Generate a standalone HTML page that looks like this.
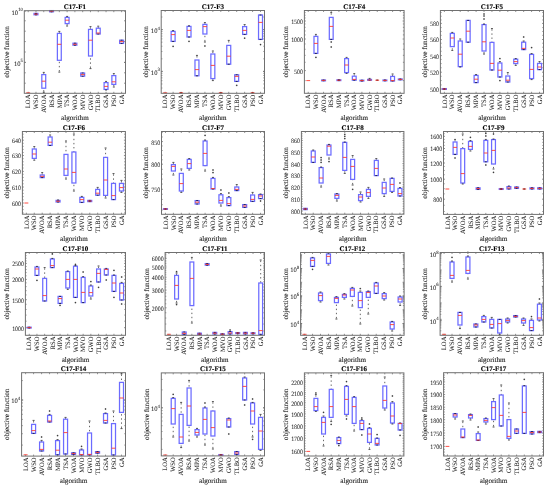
<!DOCTYPE html>
<html><head><meta charset="utf-8"><title>C17 boxplots</title><style>
html,body{margin:0;padding:0;background:#fff;}
body{width:550px;height:488px;overflow:hidden;}
svg{display:block;text-rendering:geometricPrecision;}
text{font-family:"Liberation Serif","Times New Roman",serif;fill:#222;stroke:#222;stroke-width:0.15px;}
.tt{font-size:7.0px;font-weight:bold;text-anchor:middle;fill:#000;}
.yl{font-size:6.6px;text-anchor:end;stroke-width:0.04px;fill:#222;}
.ex{font-size:4.75px;}
.xl{font-size:6.6px;text-anchor:end;stroke-width:0.05px;fill:#222;}
.lab{font-size:7.1px;text-anchor:middle;stroke-width:0.1px;fill:#222;}
.ax{fill:none;stroke:#707070;stroke-width:1.0;}
.tk{fill:none;stroke:#707070;stroke-width:0.75;}
.bx{fill:none;stroke:#6c6cff;stroke-width:1.25;}
.md{fill:none;stroke:#ff3a30;stroke-width:0.9;}
.wk{fill:none;stroke:#333;stroke-width:0.75;stroke-dasharray:1.4 2.7;stroke-dashoffset:-0.7;}
.cp{fill:none;stroke:#000;stroke-width:0.7;}
.ol{fill:none;stroke:#222;stroke-width:0.7;}
</style></head>
<body><svg width="550" height="488" viewBox="0 0 550 488">
<g>
<rect width="550" height="488" fill="#fff"/>
<g><text x="74.9" y="8.8" class="tt">C17-F1</text>
<text x="22.9" y="14.6" class="yl">10<tspan class="ex" dy="-3.4">10</tspan></text>
<text x="22.9" y="65.8" class="yl">10<tspan class="ex" dy="-3.4">5</tspan></text>
<text transform="translate(9.28,52) rotate(-90)" class="lab">objective function</text>
<text transform="translate(30.37,94.6) rotate(-90)" class="xl">LOA</text>
<text transform="translate(38.15,94.6) rotate(-90)" class="xl">WSO</text>
<text transform="translate(45.94,94.6) rotate(-90)" class="xl">AVOA</text>
<text transform="translate(53.72,94.6) rotate(-90)" class="xl">RSA</text>
<text transform="translate(61.51,94.6) rotate(-90)" class="xl">MPA</text>
<text transform="translate(69.29,94.6) rotate(-90)" class="xl">TSA</text>
<text transform="translate(77.08,94.6) rotate(-90)" class="xl">WOA</text>
<text transform="translate(84.86,94.6) rotate(-90)" class="xl">MVO</text>
<text transform="translate(92.65,94.6) rotate(-90)" class="xl">GWO</text>
<text transform="translate(100.43,94.6) rotate(-90)" class="xl">TLBO</text>
<text transform="translate(108.22,94.6) rotate(-90)" class="xl">GSA</text>
<text transform="translate(116,94.6) rotate(-90)" class="xl">PSO</text>
<text transform="translate(123.79,94.6) rotate(-90)" class="xl">GA</text>
<text x="74.9" y="120.3" class="lab">algorithm</text>
<path d="M28.19 93.3v-1.5M28.19 10.7v1.5M35.98 93.3v-1.5M35.98 10.7v1.5M43.76 93.3v-1.5M43.76 10.7v1.5M51.55 93.3v-1.5M51.55 10.7v1.5M59.33 93.3v-1.5M59.33 10.7v1.5M67.12 93.3v-1.5M67.12 10.7v1.5M74.9 93.3v-1.5M74.9 10.7v1.5M82.68 93.3v-1.5M82.68 10.7v1.5M90.47 93.3v-1.5M90.47 10.7v1.5M98.25 93.3v-1.5M98.25 10.7v1.5M106.04 93.3v-1.5M106.04 10.7v1.5M113.82 93.3v-1.5M113.82 10.7v1.5M121.61 93.3v-1.5M121.61 10.7v1.5M24.3 11.2h1.5M125.5 11.2h-1.5M24.3 62.4h1.5M125.5 62.4h-1.5M24.3 20.8h1.5M125.5 20.8h-1.5M24.3 31.2h1.5M125.5 31.2h-1.5M24.3 41.6h1.5M125.5 41.6h-1.5M24.3 52h1.5M125.5 52h-1.5M24.3 62.4h1.5M125.5 62.4h-1.5M24.3 72.8h1.5M125.5 72.8h-1.5M24.3 83.2h1.5M125.5 83.2h-1.5" class="tk"/>
<rect x="26.25" y="92.8" width="3.89" height="0" class="bx"/>
<path d="M26.25 92.8h3.89" class="md"/>
<rect x="34.03" y="13.4" width="3.89" height="1.4" class="bx"/>
<path d="M35 13.4h1.95M35 14.8h1.95" class="cp"/>
<path d="M34.03 14.1h3.89" class="md"/>
<path d="M43.76 72.4V74.6" class="wk"/>
<path d="M43.76 92.2V88.2" class="wk"/>
<rect x="41.82" y="74.6" width="3.89" height="13.6" class="bx"/>
<path d="M42.79 72.4h1.95M42.79 92.2h1.95" class="cp"/>
<path d="M41.82 81.2h3.89" class="md"/>
<rect x="49.6" y="10.6" width="3.89" height="1.2" class="bx"/>
<path d="M50.57 10.6h1.95M50.57 11.8h1.95" class="cp"/>
<path d="M49.6 11.2h3.89" class="md"/>
<path d="M59.33 31.4V33.4" class="wk"/>
<path d="M59.33 72.1V60.3" class="wk"/>
<rect x="57.38" y="33.4" width="3.89" height="26.9" class="bx"/>
<path d="M58.36 31.4h1.95M58.36 72.1h1.95" class="cp"/>
<path d="M57.38 44.3h3.89" class="md"/>
<path d="M67.12 16.4V17.4" class="wk"/>
<path d="M67.12 26V23.6" class="wk"/>
<rect x="65.17" y="17.4" width="3.89" height="6.2" class="bx"/>
<path d="M66.14 16.4h1.95M66.14 26h1.95" class="cp"/>
<path d="M65.17 20.2h3.89" class="md"/>
<rect x="72.95" y="43.2" width="3.89" height="2" class="bx"/>
<path d="M73.93 43.2h1.95M73.93 45.2h1.95" class="cp"/>
<path d="M72.95 44.3h3.89" class="md"/>
<rect x="80.74" y="73" width="3.89" height="3.2" class="bx"/>
<path d="M81.71 73h1.95M81.71 76.2h1.95" class="cp"/>
<path d="M80.74 74.6h3.89" class="md"/>
<path d="M90.47 26.6V29.4" class="wk"/>
<path d="M90.47 68.6V56" class="wk"/>
<rect x="88.52" y="29.4" width="3.89" height="26.6" class="bx"/>
<path d="M89.5 26.6h1.95M89.5 68.6h1.95" class="cp"/>
<path d="M88.52 40.2h3.89" class="md"/>
<path d="M98.25 26.2V28.2" class="wk"/>
<rect x="96.31" y="28.2" width="3.89" height="5.8" class="bx"/>
<path d="M97.28 26.2h1.95M97.28 34h1.95" class="cp"/>
<path d="M96.31 33h3.89" class="md"/>
<path d="M106.04 81.4V82.6" class="wk"/>
<path d="M106.04 90V89.4" class="wk"/>
<rect x="104.09" y="82.6" width="3.89" height="6.8" class="bx"/>
<path d="M105.07 81.4h1.95M105.07 90h1.95" class="cp"/>
<path d="M104.09 86.4h3.89" class="md"/>
<path d="M113.82 73.6V75.6" class="wk"/>
<path d="M113.82 87V84.4" class="wk"/>
<rect x="111.88" y="75.6" width="3.89" height="8.8" class="bx"/>
<path d="M112.85 73.6h1.95M112.85 87h1.95" class="cp"/>
<path d="M111.88 81.8h3.89" class="md"/>
<rect x="119.66" y="40.2" width="3.89" height="3.2" class="bx"/>
<path d="M120.63 40.2h1.95M120.63 43.4h1.95" class="cp"/>
<path d="M119.66 41.6h3.89" class="md"/>
<rect x="24.3" y="10.7" width="101.2" height="82.6" class="ax"/></g>
<g><text x="212.85" y="8.6" class="tt">C17-F3</text>
<text x="159.8" y="33" class="yl">10<tspan class="ex" dy="-3.4">4</tspan></text>
<text x="159.8" y="74.8" class="yl">10<tspan class="ex" dy="-3.4">3</tspan></text>
<text transform="translate(148.49,51.9) rotate(-90)" class="lab">objective function</text>
<text transform="translate(167.35,94.6) rotate(-90)" class="xl">LOA</text>
<text transform="translate(175.3,94.6) rotate(-90)" class="xl">WSO</text>
<text transform="translate(183.24,94.6) rotate(-90)" class="xl">AVOA</text>
<text transform="translate(191.19,94.6) rotate(-90)" class="xl">RSA</text>
<text transform="translate(199.14,94.6) rotate(-90)" class="xl">MPA</text>
<text transform="translate(207.08,94.6) rotate(-90)" class="xl">TSA</text>
<text transform="translate(215.03,94.6) rotate(-90)" class="xl">WOA</text>
<text transform="translate(222.97,94.6) rotate(-90)" class="xl">MVO</text>
<text transform="translate(230.92,94.6) rotate(-90)" class="xl">GWO</text>
<text transform="translate(238.87,94.6) rotate(-90)" class="xl">TLBO</text>
<text transform="translate(246.81,94.6) rotate(-90)" class="xl">GSA</text>
<text transform="translate(254.76,94.6) rotate(-90)" class="xl">PSO</text>
<text transform="translate(262.7,94.6) rotate(-90)" class="xl">GA</text>
<text x="212.85" y="120.3" class="lab">algorithm</text>
<path d="M165.17 93.3v-1.5M165.17 10.5v1.5M173.12 93.3v-1.5M173.12 10.5v1.5M181.07 93.3v-1.5M181.07 10.5v1.5M189.01 93.3v-1.5M189.01 10.5v1.5M196.96 93.3v-1.5M196.96 10.5v1.5M204.9 93.3v-1.5M204.9 10.5v1.5M212.85 93.3v-1.5M212.85 10.5v1.5M220.8 93.3v-1.5M220.8 10.5v1.5M228.74 93.3v-1.5M228.74 10.5v1.5M236.69 93.3v-1.5M236.69 10.5v1.5M244.63 93.3v-1.5M244.63 10.5v1.5M252.58 93.3v-1.5M252.58 10.5v1.5M260.53 93.3v-1.5M260.53 10.5v1.5M161.2 29.6h1.5M264.5 29.6h-1.5M161.2 71.4h1.5M264.5 71.4h-1.5M161.2 88.03h1.2M264.5 88.03h-1.2M161.2 83.98h1.2M264.5 83.98h-1.2M161.2 80.67h1.2M264.5 80.67h-1.2M161.2 77.87h1.2M264.5 77.87h-1.2M161.2 75.45h1.2M264.5 75.45h-1.2M161.2 73.31h1.2M264.5 73.31h-1.2M161.2 71.4h1.5M264.5 71.4h-1.5M161.2 58.82h1.2M264.5 58.82h-1.2M161.2 51.46h1.2M264.5 51.46h-1.2M161.2 46.23h1.2M264.5 46.23h-1.2M161.2 42.18h1.2M264.5 42.18h-1.2M161.2 38.87h1.2M264.5 38.87h-1.2M161.2 36.07h1.2M264.5 36.07h-1.2M161.2 33.65h1.2M264.5 33.65h-1.2M161.2 31.51h1.2M264.5 31.51h-1.2M161.2 29.6h1.5M264.5 29.6h-1.5M161.2 17.02h1.2M264.5 17.02h-1.2" class="tk"/>
<rect x="163.19" y="92.8" width="3.97" height="0" class="bx"/>
<path d="M163.19 92.8h3.97" class="md"/>
<path d="M173.12 30.6V31.4" class="wk"/>
<rect x="171.13" y="31.4" width="3.97" height="10" class="bx"/>
<path d="M172.13 30.6h1.99M172.13 41.4h1.99" class="cp"/>
<path d="M171.13 34.6h3.97" class="md"/>
<path d="M172.32 46.4h1.6M173.12 45.6v1.6" class="ol"/>
<rect x="179.08" y="92.8" width="3.97" height="0" class="bx"/>
<path d="M180.07 92.8h1.99M180.07 92.8h1.99" class="cp"/>
<path d="M179.08 92.8h3.97" class="md"/>
<path d="M189.01 25.8V26.4" class="wk"/>
<rect x="187.03" y="26.4" width="3.97" height="10.6" class="bx"/>
<path d="M188.02 25.8h1.99M188.02 37h1.99" class="cp"/>
<path d="M187.03 30.4h3.97" class="md"/>
<path d="M188.21 41.4h1.6M189.01 40.6v1.6" class="ol"/>
<path d="M196.96 55.4V60" class="wk"/>
<rect x="194.97" y="60" width="3.97" height="15.8" class="bx"/>
<path d="M195.96 55.4h1.99M195.96 75.8h1.99" class="cp"/>
<path d="M194.97 69.6h3.97" class="md"/>
<path d="M204.9 22.6V24.4" class="wk"/>
<path d="M204.9 42V34" class="wk"/>
<rect x="202.92" y="24.4" width="3.97" height="9.6" class="bx"/>
<path d="M203.91 22.6h1.99M203.91 42h1.99" class="cp"/>
<path d="M202.92 26.6h3.97" class="md"/>
<path d="M204.1 46h1.6M204.9 45.2v1.6" class="ol"/>
<path d="M212.85 51V54" class="wk"/>
<path d="M212.85 80.6V78.6" class="wk"/>
<rect x="210.86" y="54" width="3.97" height="24.6" class="bx"/>
<path d="M211.86 51h1.99M211.86 80.6h1.99" class="cp"/>
<path d="M210.86 65.4h3.97" class="md"/>
<rect x="218.81" y="92.8" width="3.97" height="0" class="bx"/>
<path d="M219.8 92.8h1.99M219.8 92.8h1.99" class="cp"/>
<path d="M218.81 92.8h3.97" class="md"/>
<path d="M228.74 40.4V45.4" class="wk"/>
<rect x="226.76" y="45.4" width="3.97" height="18.8" class="bx"/>
<path d="M227.75 40.4h1.99M227.75 64.2h1.99" class="cp"/>
<path d="M226.76 56.2h3.97" class="md"/>
<rect x="234.7" y="74.8" width="3.97" height="6.6" class="bx"/>
<path d="M235.7 74.8h1.99M235.7 81.4h1.99" class="cp"/>
<path d="M234.7 76.4h3.97" class="md"/>
<path d="M235.89 85.4h1.6M236.69 84.6v1.6" class="ol"/>
<path d="M244.63 24.6V26.6" class="wk"/>
<rect x="242.65" y="26.6" width="3.97" height="7.8" class="bx"/>
<path d="M243.64 24.6h1.99M243.64 34.4h1.99" class="cp"/>
<path d="M242.65 30.4h3.97" class="md"/>
<path d="M243.83 38.2h1.6M244.63 37.4v1.6" class="ol"/>
<rect x="250.59" y="92.8" width="3.97" height="0" class="bx"/>
<path d="M251.59 92.8h1.99M251.59 92.8h1.99" class="cp"/>
<path d="M250.59 92.8h3.97" class="md"/>
<rect x="258.54" y="15" width="3.97" height="24.4" class="bx"/>
<path d="M259.53 15h1.99M259.53 39.4h1.99" class="cp"/>
<path d="M258.54 22.4h3.97" class="md"/>
<path d="M259.73 44.6h1.6M260.53 43.8v1.6" class="ol"/>
<rect x="161.2" y="10.5" width="103.3" height="82.8" class="ax"/></g>
<g><text x="354.25" y="8.6" class="tt">C17-F4</text>
<text transform="translate(303,23.9) scale(0.9,1)" class="yl">1500</text>
<text transform="translate(303,41.9) scale(0.9,1)" class="yl">1000</text>
<text transform="translate(303,73.5) scale(0.9,1)" class="yl">500</text>
<text transform="translate(287.92,51.9) rotate(-90)" class="lab">objective function</text>
<text transform="translate(310.41,94.6) rotate(-90)" class="xl">LOA</text>
<text transform="translate(318.08,94.6) rotate(-90)" class="xl">WSO</text>
<text transform="translate(325.75,94.6) rotate(-90)" class="xl">AVOA</text>
<text transform="translate(333.42,94.6) rotate(-90)" class="xl">RSA</text>
<text transform="translate(341.09,94.6) rotate(-90)" class="xl">MPA</text>
<text transform="translate(348.76,94.6) rotate(-90)" class="xl">TSA</text>
<text transform="translate(356.43,94.6) rotate(-90)" class="xl">WOA</text>
<text transform="translate(364.1,94.6) rotate(-90)" class="xl">MVO</text>
<text transform="translate(371.77,94.6) rotate(-90)" class="xl">GWO</text>
<text transform="translate(379.44,94.6) rotate(-90)" class="xl">TLBO</text>
<text transform="translate(387.1,94.6) rotate(-90)" class="xl">GSA</text>
<text transform="translate(394.77,94.6) rotate(-90)" class="xl">PSO</text>
<text transform="translate(402.44,94.6) rotate(-90)" class="xl">GA</text>
<text x="354.25" y="120.3" class="lab">algorithm</text>
<path d="M308.23 93.3v-1.5M308.23 10.5v1.5M315.9 93.3v-1.5M315.9 10.5v1.5M323.57 93.3v-1.5M323.57 10.5v1.5M331.24 93.3v-1.5M331.24 10.5v1.5M338.91 93.3v-1.5M338.91 10.5v1.5M346.58 93.3v-1.5M346.58 10.5v1.5M354.25 93.3v-1.5M354.25 10.5v1.5M361.92 93.3v-1.5M361.92 10.5v1.5M369.59 93.3v-1.5M369.59 10.5v1.5M377.26 93.3v-1.5M377.26 10.5v1.5M384.93 93.3v-1.5M384.93 10.5v1.5M392.6 93.3v-1.5M392.6 10.5v1.5M400.27 93.3v-1.5M400.27 10.5v1.5M304.4 21h1.5M404.1 21h-1.5M304.4 39h1.5M404.1 39h-1.5M304.4 70.6h1.5M404.1 70.6h-1.5M304.4 80.61h1.2M404.1 80.61h-1.2M304.4 62.29h1.2M404.1 62.29h-1.2M304.4 55.32h1.2M404.1 55.32h-1.2M304.4 49.28h1.2M404.1 49.28h-1.2M304.4 43.96h1.2M404.1 43.96h-1.2M304.4 34.89h1.2M404.1 34.89h-1.2M304.4 30.96h1.2M404.1 30.96h-1.2M304.4 27.34h1.2M404.1 27.34h-1.2M304.4 23.99h1.2M404.1 23.99h-1.2M304.4 17.96h1.2M404.1 17.96h-1.2M304.4 15.22h1.2M404.1 15.22h-1.2M304.4 12.63h1.2M404.1 12.63h-1.2" class="tk"/>
<rect x="306.32" y="80.6" width="3.83" height="0" class="bx"/>
<path d="M306.32 80.6h3.83" class="md"/>
<path d="M315.9 34.4V36.4" class="wk"/>
<rect x="313.99" y="36.4" width="3.83" height="17" class="bx"/>
<path d="M314.95 34.4h1.92M314.95 53.4h1.92" class="cp"/>
<path d="M313.99 43.4h3.83" class="md"/>
<path d="M315.1 57.4h1.6M315.9 56.6v1.6" class="ol"/>
<rect x="321.66" y="80" width="3.83" height="0.8" class="bx"/>
<path d="M322.61 80h1.92M322.61 80.8h1.92" class="cp"/>
<path d="M321.66 80.4h3.83" class="md"/>
<path d="M331.24 12.6V17.4" class="wk"/>
<rect x="329.32" y="17.4" width="3.83" height="22" class="bx"/>
<path d="M330.28 12.6h1.92M330.28 39.4h1.92" class="cp"/>
<path d="M329.32 26.4h3.83" class="md"/>
<path d="M330.44 42h1.6M331.24 41.2v1.6" class="ol"/>
<path d="M330.44 47h1.6M331.24 46.2v1.6" class="ol"/>
<rect x="336.99" y="79.8" width="3.83" height="0.8" class="bx"/>
<path d="M337.95 79.8h1.92M337.95 80.6h1.92" class="cp"/>
<path d="M336.99 80.2h3.83" class="md"/>
<path d="M346.58 57.4V58.6" class="wk"/>
<path d="M346.58 73.4V72.6" class="wk"/>
<rect x="344.66" y="58.6" width="3.83" height="14" class="bx"/>
<path d="M345.62 57.4h1.92M345.62 73.4h1.92" class="cp"/>
<path d="M344.66 65h3.83" class="md"/>
<path d="M354.25 73.6V76.2" class="wk"/>
<rect x="352.33" y="76.2" width="3.83" height="4" class="bx"/>
<path d="M353.29 73.6h1.92M353.29 80.2h1.92" class="cp"/>
<path d="M352.33 79.4h3.83" class="md"/>
<rect x="360" y="80.2" width="3.83" height="0.8" class="bx"/>
<path d="M360.96 80.2h1.92M360.96 81h1.92" class="cp"/>
<path d="M360 80.6h3.83" class="md"/>
<path d="M369.59 78.4V79.4" class="wk"/>
<rect x="367.67" y="79.4" width="3.83" height="0.8" class="bx"/>
<path d="M368.63 78.4h1.92M368.63 80.2h1.92" class="cp"/>
<path d="M367.67 80h3.83" class="md"/>
<rect x="375.34" y="80.2" width="3.83" height="0" class="bx"/>
<path d="M376.3 80.2h1.92M376.3 80.2h1.92" class="cp"/>
<path d="M375.34 80.2h3.83" class="md"/>
<rect x="383.01" y="80" width="3.83" height="0.8" class="bx"/>
<path d="M383.97 80h1.92M383.97 80.8h1.92" class="cp"/>
<path d="M383.01 80.4h3.83" class="md"/>
<path d="M392.6 74V76.4" class="wk"/>
<rect x="390.68" y="76.4" width="3.83" height="4.6" class="bx"/>
<path d="M391.64 74h1.92M391.64 81h1.92" class="cp"/>
<path d="M390.68 80.6h3.83" class="md"/>
<rect x="398.35" y="79" width="3.83" height="0.8" class="bx"/>
<path d="M399.31 79h1.92M399.31 79.8h1.92" class="cp"/>
<path d="M398.35 79.4h3.83" class="md"/>
<rect x="304.4" y="10.5" width="99.7" height="82.8" class="ax"/></g>
<g><text x="491.95" y="8.6" class="tt">C17-F5</text>
<text transform="translate(439,26.3) scale(0.9,1)" class="yl">580</text>
<text transform="translate(439,42.4) scale(0.9,1)" class="yl">560</text>
<text transform="translate(439,58.5) scale(0.9,1)" class="yl">540</text>
<text transform="translate(439,75.1) scale(0.9,1)" class="yl">520</text>
<text transform="translate(439,91.9) scale(0.9,1)" class="yl">500</text>
<text transform="translate(426.89,51.9) rotate(-90)" class="lab">objective function</text>
<text transform="translate(446.54,94.6) rotate(-90)" class="xl">LOA</text>
<text transform="translate(454.47,94.6) rotate(-90)" class="xl">WSO</text>
<text transform="translate(462.4,94.6) rotate(-90)" class="xl">AVOA</text>
<text transform="translate(470.34,94.6) rotate(-90)" class="xl">RSA</text>
<text transform="translate(478.27,94.6) rotate(-90)" class="xl">MPA</text>
<text transform="translate(486.2,94.6) rotate(-90)" class="xl">TSA</text>
<text transform="translate(494.13,94.6) rotate(-90)" class="xl">WOA</text>
<text transform="translate(502.06,94.6) rotate(-90)" class="xl">MVO</text>
<text transform="translate(509.99,94.6) rotate(-90)" class="xl">GWO</text>
<text transform="translate(517.92,94.6) rotate(-90)" class="xl">TLBO</text>
<text transform="translate(525.85,94.6) rotate(-90)" class="xl">GSA</text>
<text transform="translate(533.78,94.6) rotate(-90)" class="xl">PSO</text>
<text transform="translate(541.71,94.6) rotate(-90)" class="xl">GA</text>
<text x="491.95" y="120.3" class="lab">algorithm</text>
<path d="M444.37 93.3v-1.5M444.37 10.5v1.5M452.3 93.3v-1.5M452.3 10.5v1.5M460.23 93.3v-1.5M460.23 10.5v1.5M468.16 93.3v-1.5M468.16 10.5v1.5M476.09 93.3v-1.5M476.09 10.5v1.5M484.02 93.3v-1.5M484.02 10.5v1.5M491.95 93.3v-1.5M491.95 10.5v1.5M499.88 93.3v-1.5M499.88 10.5v1.5M507.81 93.3v-1.5M507.81 10.5v1.5M515.74 93.3v-1.5M515.74 10.5v1.5M523.67 93.3v-1.5M523.67 10.5v1.5M531.6 93.3v-1.5M531.6 10.5v1.5M539.53 93.3v-1.5M539.53 10.5v1.5M440.4 23.4h1.5M543.5 23.4h-1.5M440.4 39.5h1.5M543.5 39.5h-1.5M440.4 55.6h1.5M543.5 55.6h-1.5M440.4 72.2h1.5M543.5 72.2h-1.5M440.4 89h1.5M543.5 89h-1.5M440.4 84.93h1.2M543.5 84.93h-1.2M440.4 80.58h1.2M543.5 80.58h-1.2M440.4 76.27h1.2M543.5 76.27h-1.2M440.4 67.78h1.2M543.5 67.78h-1.2M440.4 63.59h1.2M543.5 63.59h-1.2M440.4 59.44h1.2M543.5 59.44h-1.2M440.4 51.26h1.2M543.5 51.26h-1.2M440.4 47.23h1.2M543.5 47.23h-1.2M440.4 43.23h1.2M543.5 43.23h-1.2M440.4 35.34h1.2M543.5 35.34h-1.2M440.4 31.45h1.2M543.5 31.45h-1.2M440.4 27.59h1.2M543.5 27.59h-1.2M440.4 19.98h1.2M543.5 19.98h-1.2M440.4 16.22h1.2M543.5 16.22h-1.2M440.4 12.49h1.2M543.5 12.49h-1.2" class="tk"/>
<rect x="442.38" y="88.6" width="3.97" height="0.8" class="bx"/>
<path d="M443.37 88.6h1.98M443.37 89.4h1.98" class="cp"/>
<path d="M442.38 89h3.97" class="md"/>
<path d="M452.3 32.4V33.4" class="wk"/>
<path d="M452.3 50.4V46.6" class="wk"/>
<rect x="450.31" y="33.4" width="3.97" height="13.2" class="bx"/>
<path d="M451.3 32.4h1.98M451.3 50.4h1.98" class="cp"/>
<path d="M450.31 38h3.97" class="md"/>
<path d="M460.23 39V41" class="wk"/>
<path d="M460.23 67V66.6" class="wk"/>
<rect x="458.24" y="41" width="3.97" height="25.6" class="bx"/>
<path d="M459.24 39h1.98M459.24 67h1.98" class="cp"/>
<path d="M458.24 54.2h3.97" class="md"/>
<rect x="466.17" y="20.4" width="3.97" height="21.8" class="bx"/>
<path d="M467.17 20.4h1.98M467.17 42.2h1.98" class="cp"/>
<path d="M466.17 31.2h3.97" class="md"/>
<path d="M476.09 74.6V75.4" class="wk"/>
<rect x="474.11" y="75.4" width="3.97" height="7.2" class="bx"/>
<path d="M475.1 74.6h1.98M475.1 82.6h1.98" class="cp"/>
<path d="M474.11 79.2h3.97" class="md"/>
<path d="M484.02 24V24.6" class="wk"/>
<path d="M484.02 54V51" class="wk"/>
<rect x="482.04" y="24.6" width="3.97" height="26.4" class="bx"/>
<path d="M483.03 24h1.98M483.03 54h1.98" class="cp"/>
<path d="M482.04 41.8h3.97" class="md"/>
<path d="M483.22 14h1.6M484.02 13.2v1.6" class="ol"/>
<path d="M483.22 16h1.6M484.02 15.2v1.6" class="ol"/>
<path d="M483.22 19h1.6M484.02 18.2v1.6" class="ol"/>
<path d="M491.95 28.6V42.4" class="wk"/>
<rect x="489.97" y="42.4" width="3.97" height="27.6" class="bx"/>
<path d="M490.96 28.6h1.98M490.96 70h1.98" class="cp"/>
<path d="M489.97 63.4h3.97" class="md"/>
<path d="M499.88 61.6V63" class="wk"/>
<rect x="497.9" y="63" width="3.97" height="14" class="bx"/>
<path d="M498.89 61.6h1.98M498.89 77h1.98" class="cp"/>
<path d="M497.9 70.2h3.97" class="md"/>
<path d="M499.08 58.6h1.6M499.88 57.8v1.6" class="ol"/>
<path d="M499.08 80.6h1.6M499.88 79.8v1.6" class="ol"/>
<path d="M507.81 72.6V76" class="wk"/>
<rect x="505.83" y="76" width="3.97" height="6" class="bx"/>
<path d="M506.82 72.6h1.98M506.82 82h1.98" class="cp"/>
<path d="M505.83 80.2h3.97" class="md"/>
<path d="M515.74 58.6V59.2" class="wk"/>
<path d="M515.74 65.4V63.6" class="wk"/>
<rect x="513.76" y="59.2" width="3.97" height="4.4" class="bx"/>
<path d="M514.75 58.6h1.98M514.75 65.4h1.98" class="cp"/>
<path d="M513.76 61.6h3.97" class="md"/>
<path d="M523.67 41V42.2" class="wk"/>
<rect x="521.69" y="42.2" width="3.97" height="7.4" class="bx"/>
<path d="M522.68 41h1.98M522.68 49.6h1.98" class="cp"/>
<path d="M521.69 48.4h3.97" class="md"/>
<path d="M522.87 37h1.6M523.67 36.2v1.6" class="ol"/>
<path d="M531.6 53.6V54.4" class="wk"/>
<path d="M531.6 79.6V78.6" class="wk"/>
<rect x="529.62" y="54.4" width="3.97" height="24.2" class="bx"/>
<path d="M530.61 53.6h1.98M530.61 79.6h1.98" class="cp"/>
<path d="M529.62 69.4h3.97" class="md"/>
<path d="M530.8 47.6h1.6M531.6 46.8v1.6" class="ol"/>
<path d="M539.53 61.6V63.4" class="wk"/>
<rect x="537.55" y="63.4" width="3.97" height="6.2" class="bx"/>
<path d="M538.54 61.6h1.98M538.54 69.6h1.98" class="cp"/>
<path d="M537.55 67h3.97" class="md"/>
<rect x="440.4" y="10.5" width="103.1" height="82.8" class="ax"/></g>
<g><text x="73.9" y="129.6" class="tt">C17-F6</text>
<text transform="translate(21,143.1) scale(0.9,1)" class="yl">640</text>
<text transform="translate(21,158.4) scale(0.9,1)" class="yl">630</text>
<text transform="translate(21,174.3) scale(0.9,1)" class="yl">620</text>
<text transform="translate(21,189.9) scale(0.9,1)" class="yl">610</text>
<text transform="translate(21,205.9) scale(0.9,1)" class="yl">600</text>
<text transform="translate(8.89,172.85) rotate(-90)" class="lab">objective function</text>
<text transform="translate(28.54,215.5) rotate(-90)" class="xl">LOA</text>
<text transform="translate(36.46,215.5) rotate(-90)" class="xl">WSO</text>
<text transform="translate(44.39,215.5) rotate(-90)" class="xl">AVOA</text>
<text transform="translate(52.31,215.5) rotate(-90)" class="xl">RSA</text>
<text transform="translate(60.23,215.5) rotate(-90)" class="xl">MPA</text>
<text transform="translate(68.15,215.5) rotate(-90)" class="xl">TSA</text>
<text transform="translate(76.08,215.5) rotate(-90)" class="xl">WOA</text>
<text transform="translate(84,215.5) rotate(-90)" class="xl">MVO</text>
<text transform="translate(91.92,215.5) rotate(-90)" class="xl">GWO</text>
<text transform="translate(99.85,215.5) rotate(-90)" class="xl">TLBO</text>
<text transform="translate(107.77,215.5) rotate(-90)" class="xl">GSA</text>
<text transform="translate(115.69,215.5) rotate(-90)" class="xl">PSO</text>
<text transform="translate(123.62,215.5) rotate(-90)" class="xl">GA</text>
<text x="73.9" y="241.2" class="lab">algorithm</text>
<path d="M26.36 214.2v-1.5M26.36 131.5v1.5M34.28 214.2v-1.5M34.28 131.5v1.5M42.21 214.2v-1.5M42.21 131.5v1.5M50.13 214.2v-1.5M50.13 131.5v1.5M58.05 214.2v-1.5M58.05 131.5v1.5M65.98 214.2v-1.5M65.98 131.5v1.5M73.9 214.2v-1.5M73.9 131.5v1.5M81.82 214.2v-1.5M81.82 131.5v1.5M89.75 214.2v-1.5M89.75 131.5v1.5M97.67 214.2v-1.5M97.67 131.5v1.5M105.59 214.2v-1.5M105.59 131.5v1.5M113.52 214.2v-1.5M113.52 131.5v1.5M121.44 214.2v-1.5M121.44 131.5v1.5M22.4 140.2h1.5M125.4 140.2h-1.5M22.4 155.5h1.5M125.4 155.5h-1.5M22.4 171.4h1.5M125.4 171.4h-1.5M22.4 187h1.5M125.4 187h-1.5M22.4 203h1.5M125.4 203h-1.5M22.4 212.88h1.2M125.4 212.88h-1.2M22.4 209.61h1.2M125.4 209.61h-1.2M22.4 206.35h1.2M125.4 206.35h-1.2M22.4 199.85h1.2M125.4 199.85h-1.2M22.4 196.62h1.2M125.4 196.62h-1.2M22.4 193.41h1.2M125.4 193.41h-1.2M22.4 190.2h1.2M125.4 190.2h-1.2M22.4 183.81h1.2M125.4 183.81h-1.2M22.4 180.64h1.2M125.4 180.64h-1.2M22.4 177.47h1.2M125.4 177.47h-1.2M22.4 174.31h1.2M125.4 174.31h-1.2M22.4 168.03h1.2M125.4 168.03h-1.2M22.4 164.9h1.2M125.4 164.9h-1.2M22.4 161.79h1.2M125.4 161.79h-1.2M22.4 158.68h1.2M125.4 158.68h-1.2M22.4 152.5h1.2M125.4 152.5h-1.2M22.4 149.42h1.2M125.4 149.42h-1.2M22.4 146.36h1.2M125.4 146.36h-1.2M22.4 143.3h1.2M125.4 143.3h-1.2M22.4 137.21h1.2M125.4 137.21h-1.2M22.4 134.19h1.2M125.4 134.19h-1.2" class="tk"/>
<rect x="24.38" y="203" width="3.96" height="0" class="bx"/>
<path d="M24.38 203h3.96" class="md"/>
<path d="M34.28 146.6V149" class="wk"/>
<path d="M34.28 160.2V158.4" class="wk"/>
<rect x="32.3" y="149" width="3.96" height="9.4" class="bx"/>
<path d="M33.29 146.6h1.98M33.29 160.2h1.98" class="cp"/>
<path d="M32.3 154h3.96" class="md"/>
<path d="M42.21 172.6V175" class="wk"/>
<rect x="40.23" y="175" width="3.96" height="2.6" class="bx"/>
<path d="M41.22 172.6h1.98M41.22 177.6h1.98" class="cp"/>
<path d="M40.23 176.4h3.96" class="md"/>
<path d="M50.13 135V137" class="wk"/>
<rect x="48.15" y="137" width="3.96" height="8.4" class="bx"/>
<path d="M49.14 135h1.98M49.14 145.4h1.98" class="cp"/>
<path d="M48.15 142.2h3.96" class="md"/>
<path d="M58.05 200V200.4" class="wk"/>
<rect x="56.07" y="200.4" width="3.96" height="1.6" class="bx"/>
<path d="M57.06 200h1.98M57.06 202h1.98" class="cp"/>
<path d="M56.07 201.2h3.96" class="md"/>
<path d="M65.98 141V154.4" class="wk"/>
<path d="M65.98 179V175.4" class="wk"/>
<rect x="64" y="154.4" width="3.96" height="21" class="bx"/>
<path d="M64.99 141h1.98M64.99 179h1.98" class="cp"/>
<path d="M64 169h3.96" class="md"/>
<path d="M73.9 134V152" class="wk"/>
<path d="M73.9 191V183" class="wk"/>
<rect x="71.92" y="152" width="3.96" height="31" class="bx"/>
<path d="M72.91 134h1.98M72.91 191h1.98" class="cp"/>
<path d="M71.92 172.4h3.96" class="md"/>
<path d="M81.82 196.4V197.4" class="wk"/>
<rect x="79.84" y="197.4" width="3.96" height="5" class="bx"/>
<path d="M80.83 196.4h1.98M80.83 202.4h1.98" class="cp"/>
<path d="M79.84 199.6h3.96" class="md"/>
<rect x="87.77" y="200.4" width="3.96" height="1.2" class="bx"/>
<path d="M88.76 200.4h1.98M88.76 201.6h1.98" class="cp"/>
<path d="M87.77 201h3.96" class="md"/>
<path d="M97.67 187.4V189.4" class="wk"/>
<rect x="95.69" y="189.4" width="3.96" height="5.8" class="bx"/>
<path d="M96.68 187.4h1.98M96.68 195.2h1.98" class="cp"/>
<path d="M95.69 193.2h3.96" class="md"/>
<path d="M105.59 148V157.4" class="wk"/>
<path d="M105.59 198V195.4" class="wk"/>
<rect x="103.61" y="157.4" width="3.96" height="38" class="bx"/>
<path d="M104.6 148h1.98M104.6 198h1.98" class="cp"/>
<path d="M103.61 180h3.96" class="md"/>
<path d="M113.52 173.6V183.4" class="wk"/>
<rect x="111.53" y="183.4" width="3.96" height="16.2" class="bx"/>
<path d="M112.53 173.6h1.98M112.53 199.6h1.98" class="cp"/>
<path d="M111.53 195.6h3.96" class="md"/>
<path d="M121.44 180.4V183.4" class="wk"/>
<path d="M121.44 192.4V191" class="wk"/>
<rect x="119.46" y="183.4" width="3.96" height="7.6" class="bx"/>
<path d="M120.45 180.4h1.98M120.45 192.4h1.98" class="cp"/>
<path d="M119.46 187.6h3.96" class="md"/>
<rect x="22.4" y="131.5" width="103" height="82.7" class="ax"/></g>
<g><text x="213" y="129.6" class="tt">C17-F7</text>
<text transform="translate(160.1,144.5) scale(0.9,1)" class="yl">850</text>
<text transform="translate(160.1,167.1) scale(0.9,1)" class="yl">800</text>
<text transform="translate(160.1,192.2) scale(0.9,1)" class="yl">750</text>
<text transform="translate(147.99,172.9) rotate(-90)" class="lab">objective function</text>
<text transform="translate(167.64,215.6) rotate(-90)" class="xl">LOA</text>
<text transform="translate(175.56,215.6) rotate(-90)" class="xl">WSO</text>
<text transform="translate(183.49,215.6) rotate(-90)" class="xl">AVOA</text>
<text transform="translate(191.41,215.6) rotate(-90)" class="xl">RSA</text>
<text transform="translate(199.33,215.6) rotate(-90)" class="xl">MPA</text>
<text transform="translate(207.25,215.6) rotate(-90)" class="xl">TSA</text>
<text transform="translate(215.18,215.6) rotate(-90)" class="xl">WOA</text>
<text transform="translate(223.1,215.6) rotate(-90)" class="xl">MVO</text>
<text transform="translate(231.02,215.6) rotate(-90)" class="xl">GWO</text>
<text transform="translate(238.95,215.6) rotate(-90)" class="xl">TLBO</text>
<text transform="translate(246.87,215.6) rotate(-90)" class="xl">GSA</text>
<text transform="translate(254.79,215.6) rotate(-90)" class="xl">PSO</text>
<text transform="translate(262.72,215.6) rotate(-90)" class="xl">GA</text>
<text x="213" y="241.3" class="lab">algorithm</text>
<path d="M165.46 214.3v-1.5M165.46 131.5v1.5M173.38 214.3v-1.5M173.38 131.5v1.5M181.31 214.3v-1.5M181.31 131.5v1.5M189.23 214.3v-1.5M189.23 131.5v1.5M197.15 214.3v-1.5M197.15 131.5v1.5M205.08 214.3v-1.5M205.08 131.5v1.5M213 214.3v-1.5M213 131.5v1.5M220.92 214.3v-1.5M220.92 131.5v1.5M228.85 214.3v-1.5M228.85 131.5v1.5M236.77 214.3v-1.5M236.77 131.5v1.5M244.69 214.3v-1.5M244.69 131.5v1.5M252.62 214.3v-1.5M252.62 131.5v1.5M260.54 214.3v-1.5M260.54 131.5v1.5M161.5 141.6h1.5M264.5 141.6h-1.5M161.5 164.2h1.5M264.5 164.2h-1.5M161.5 189.3h1.5M264.5 189.3h-1.5M161.5 210.03h1.2M264.5 210.03h-1.2M161.5 204.7h1.2M264.5 204.7h-1.2M161.5 199.44h1.2M264.5 199.44h-1.2M161.5 194.25h1.2M264.5 194.25h-1.2M161.5 184.09h1.2M264.5 184.09h-1.2M161.5 179.11h1.2M264.5 179.11h-1.2M161.5 174.19h1.2M264.5 174.19h-1.2M161.5 169.33h1.2M264.5 169.33h-1.2M161.5 159.8h1.2M264.5 159.8h-1.2M161.5 155.12h1.2M264.5 155.12h-1.2M161.5 150.5h1.2M264.5 150.5h-1.2M161.5 145.94h1.2M264.5 145.94h-1.2M161.5 136.97h1.2M264.5 136.97h-1.2M161.5 132.56h1.2M264.5 132.56h-1.2" class="tk"/>
<rect x="163.48" y="208.7" width="3.96" height="0.6" class="bx"/>
<path d="M164.47 208.8h1.98M164.47 209.2h1.98" class="cp"/>
<path d="M163.48 209h3.96" class="md"/>
<path d="M173.38 162.4V164.6" class="wk"/>
<path d="M173.38 175V171" class="wk"/>
<rect x="171.4" y="164.6" width="3.96" height="6.4" class="bx"/>
<path d="M172.39 162.4h1.98M172.39 175h1.98" class="cp"/>
<path d="M171.4 166.4h3.96" class="md"/>
<path d="M181.31 169V173.4" class="wk"/>
<path d="M181.31 192.4V191" class="wk"/>
<rect x="179.33" y="173.4" width="3.96" height="17.6" class="bx"/>
<path d="M180.32 169h1.98M180.32 192.4h1.98" class="cp"/>
<path d="M179.33 183.6h3.96" class="md"/>
<path d="M189.23 158.6V159.4" class="wk"/>
<path d="M189.23 170V168.4" class="wk"/>
<rect x="187.25" y="159.4" width="3.96" height="9" class="bx"/>
<path d="M188.24 158.6h1.98M188.24 170h1.98" class="cp"/>
<path d="M187.25 163.6h3.96" class="md"/>
<rect x="195.17" y="200.6" width="3.96" height="3.4" class="bx"/>
<path d="M196.16 200.6h1.98M196.16 204h1.98" class="cp"/>
<path d="M195.17 202.2h3.96" class="md"/>
<path d="M205.08 140V141" class="wk"/>
<path d="M205.08 171V165.6" class="wk"/>
<rect x="203.1" y="141" width="3.96" height="24.6" class="bx"/>
<path d="M204.09 140h1.98M204.09 171h1.98" class="cp"/>
<path d="M203.1 153.4h3.96" class="md"/>
<path d="M204.28 135.4h1.6M205.08 134.6v1.6" class="ol"/>
<path d="M213 177.4V178.4" class="wk"/>
<rect x="211.02" y="178.4" width="3.96" height="10.6" class="bx"/>
<path d="M212.01 177.4h1.98M212.01 189h1.98" class="cp"/>
<path d="M211.02 188.6h3.96" class="md"/>
<path d="M212.2 170h1.6M213 169.2v1.6" class="ol"/>
<path d="M212.2 172.6h1.6M213 171.8v1.6" class="ol"/>
<path d="M220.92 193.6V194.8" class="wk"/>
<path d="M220.92 206V203" class="wk"/>
<rect x="218.94" y="194.8" width="3.96" height="8.2" class="bx"/>
<path d="M219.93 193.6h1.98M219.93 206h1.98" class="cp"/>
<path d="M218.94 200.4h3.96" class="md"/>
<path d="M220.12 190h1.6M220.92 189.2v1.6" class="ol"/>
<path d="M228.85 196.6V197.6" class="wk"/>
<rect x="226.87" y="197.6" width="3.96" height="8" class="bx"/>
<path d="M227.86 196.6h1.98M227.86 205.6h1.98" class="cp"/>
<path d="M226.87 203.6h3.96" class="md"/>
<path d="M228.05 193h1.6M228.85 192.2v1.6" class="ol"/>
<path d="M236.77 184.6V187" class="wk"/>
<rect x="234.79" y="187" width="3.96" height="3.6" class="bx"/>
<path d="M235.78 184.6h1.98M235.78 190.6h1.98" class="cp"/>
<path d="M234.79 189.4h3.96" class="md"/>
<rect x="242.71" y="204.6" width="3.96" height="2.8" class="bx"/>
<path d="M243.7 204.6h1.98M243.7 207.4h1.98" class="cp"/>
<path d="M242.71 206h3.96" class="md"/>
<path d="M252.62 192.4V195" class="wk"/>
<rect x="250.63" y="195" width="3.96" height="6.4" class="bx"/>
<path d="M251.62 192.4h1.98M251.62 201.4h1.98" class="cp"/>
<path d="M250.63 199.4h3.96" class="md"/>
<path d="M260.54 194V194.6" class="wk"/>
<rect x="258.56" y="194.6" width="3.96" height="4" class="bx"/>
<path d="M259.55 194h1.98M259.55 198.6h1.98" class="cp"/>
<path d="M258.56 196h3.96" class="md"/>
<path d="M259.74 201h1.6M260.54 200.2v1.6" class="ol"/>
<rect x="161.5" y="131.5" width="103" height="82.8" class="ax"/></g>
<g><text x="352.65" y="129.6" class="tt">C17-F8</text>
<text transform="translate(300,143.3) scale(0.9,1)" class="yl">860</text>
<text transform="translate(300,154.9) scale(0.9,1)" class="yl">850</text>
<text transform="translate(300,166.5) scale(0.9,1)" class="yl">840</text>
<text transform="translate(300,178.3) scale(0.9,1)" class="yl">830</text>
<text transform="translate(300,189.9) scale(0.9,1)" class="yl">820</text>
<text transform="translate(300,201.9) scale(0.9,1)" class="yl">810</text>
<text transform="translate(300,213.9) scale(0.9,1)" class="yl">800</text>
<text transform="translate(287.89,172.85) rotate(-90)" class="lab">objective function</text>
<text transform="translate(307.52,215.5) rotate(-90)" class="xl">LOA</text>
<text transform="translate(315.4,215.5) rotate(-90)" class="xl">WSO</text>
<text transform="translate(323.29,215.5) rotate(-90)" class="xl">AVOA</text>
<text transform="translate(331.17,215.5) rotate(-90)" class="xl">RSA</text>
<text transform="translate(339.06,215.5) rotate(-90)" class="xl">MPA</text>
<text transform="translate(346.94,215.5) rotate(-90)" class="xl">TSA</text>
<text transform="translate(354.83,215.5) rotate(-90)" class="xl">WOA</text>
<text transform="translate(362.71,215.5) rotate(-90)" class="xl">MVO</text>
<text transform="translate(370.6,215.5) rotate(-90)" class="xl">GWO</text>
<text transform="translate(378.48,215.5) rotate(-90)" class="xl">TLBO</text>
<text transform="translate(386.37,215.5) rotate(-90)" class="xl">GSA</text>
<text transform="translate(394.25,215.5) rotate(-90)" class="xl">PSO</text>
<text transform="translate(402.14,215.5) rotate(-90)" class="xl">GA</text>
<text x="352.65" y="241.2" class="lab">algorithm</text>
<path d="M305.34 214.2v-1.5M305.34 131.5v1.5M313.23 214.2v-1.5M313.23 131.5v1.5M321.11 214.2v-1.5M321.11 131.5v1.5M329 214.2v-1.5M329 131.5v1.5M336.88 214.2v-1.5M336.88 131.5v1.5M344.77 214.2v-1.5M344.77 131.5v1.5M352.65 214.2v-1.5M352.65 131.5v1.5M360.53 214.2v-1.5M360.53 131.5v1.5M368.42 214.2v-1.5M368.42 131.5v1.5M376.3 214.2v-1.5M376.3 131.5v1.5M384.19 214.2v-1.5M384.19 131.5v1.5M392.07 214.2v-1.5M392.07 131.5v1.5M399.96 214.2v-1.5M399.96 131.5v1.5M301.4 140.4h1.5M403.9 140.4h-1.5M301.4 152h1.5M403.9 152h-1.5M301.4 163.6h1.5M403.9 163.6h-1.5M301.4 175.4h1.5M403.9 175.4h-1.5M301.4 187h1.5M403.9 187h-1.5M301.4 199h1.5M403.9 199h-1.5M301.4 211h1.5M403.9 211h-1.5M301.4 213.56h1.2M403.9 213.56h-1.2M301.4 208.68h1.2M403.9 208.68h-1.2M301.4 206.25h1.2M403.9 206.25h-1.2M301.4 203.82h1.2M403.9 203.82h-1.2M301.4 201.41h1.2M403.9 201.41h-1.2M301.4 196.59h1.2M403.9 196.59h-1.2M301.4 194.19h1.2M403.9 194.19h-1.2M301.4 191.8h1.2M403.9 191.8h-1.2M301.4 189.41h1.2M403.9 189.41h-1.2M301.4 184.65h1.2M403.9 184.65h-1.2M301.4 182.28h1.2M403.9 182.28h-1.2M301.4 179.91h1.2M403.9 179.91h-1.2M301.4 177.56h1.2M403.9 177.56h-1.2M301.4 172.85h1.2M403.9 172.85h-1.2M301.4 170.51h1.2M403.9 170.51h-1.2M301.4 168.18h1.2M403.9 168.18h-1.2M301.4 165.85h1.2M403.9 165.85h-1.2M301.4 161.2h1.2M403.9 161.2h-1.2M301.4 158.89h1.2M403.9 158.89h-1.2M301.4 156.58h1.2M403.9 156.58h-1.2M301.4 154.27h1.2M403.9 154.27h-1.2M301.4 149.68h1.2M403.9 149.68h-1.2M301.4 147.4h1.2M403.9 147.4h-1.2M301.4 145.11h1.2M403.9 145.11h-1.2M301.4 142.84h1.2M403.9 142.84h-1.2M301.4 138.3h1.2M403.9 138.3h-1.2M301.4 136.04h1.2M403.9 136.04h-1.2M301.4 133.78h1.2M403.9 133.78h-1.2" class="tk"/>
<rect x="303.37" y="208.4" width="3.94" height="1.2" class="bx"/>
<path d="M304.36 208.4h1.97M304.36 209.6h1.97" class="cp"/>
<path d="M303.37 209h3.94" class="md"/>
<path d="M313.23 150V151" class="wk"/>
<rect x="311.26" y="151" width="3.94" height="11.4" class="bx"/>
<path d="M312.24 150h1.97M312.24 162.4h1.97" class="cp"/>
<path d="M311.26 157h3.94" class="md"/>
<path d="M321.11 167V167.6" class="wk"/>
<path d="M321.11 187V183" class="wk"/>
<rect x="319.14" y="167.6" width="3.94" height="15.4" class="bx"/>
<path d="M320.13 167h1.97M320.13 187h1.97" class="cp"/>
<path d="M319.14 178h3.94" class="md"/>
<path d="M320.31 157.6h1.6M321.11 156.8v1.6" class="ol"/>
<path d="M320.31 160h1.6M321.11 159.2v1.6" class="ol"/>
<path d="M320.31 162.4h1.6M321.11 161.6v1.6" class="ol"/>
<path d="M329 144.4V145" class="wk"/>
<path d="M329 159V155" class="wk"/>
<rect x="327.02" y="145" width="3.94" height="10" class="bx"/>
<path d="M328.01 144.4h1.97M328.01 159h1.97" class="cp"/>
<path d="M327.02 146.2h3.94" class="md"/>
<path d="M328.2 161.6h1.6M329 160.8v1.6" class="ol"/>
<path d="M336.88 193.6V194" class="wk"/>
<path d="M336.88 201V198.4" class="wk"/>
<rect x="334.91" y="194" width="3.94" height="4.4" class="bx"/>
<path d="M335.9 193.6h1.97M335.9 201h1.97" class="cp"/>
<path d="M334.91 195.4h3.94" class="md"/>
<path d="M344.77 142V142.4" class="wk"/>
<path d="M344.77 173.4V170.4" class="wk"/>
<rect x="342.79" y="142.4" width="3.94" height="28" class="bx"/>
<path d="M343.78 142h1.97M343.78 173.4h1.97" class="cp"/>
<path d="M342.79 157.4h3.94" class="md"/>
<path d="M343.97 134.4h1.6M344.77 133.6v1.6" class="ol"/>
<path d="M343.97 136.4h1.6M344.77 135.6v1.6" class="ol"/>
<path d="M343.97 138.6h1.6M344.77 137.8v1.6" class="ol"/>
<path d="M352.65 155.6V159.4" class="wk"/>
<path d="M352.65 185V179.4" class="wk"/>
<rect x="350.68" y="159.4" width="3.94" height="20" class="bx"/>
<path d="M351.66 155.6h1.97M351.66 185h1.97" class="cp"/>
<path d="M350.68 166.4h3.94" class="md"/>
<path d="M351.85 189.4h1.6M352.65 188.6v1.6" class="ol"/>
<path d="M360.53 192V194.6" class="wk"/>
<path d="M360.53 202V200.6" class="wk"/>
<rect x="358.56" y="194.6" width="3.94" height="6" class="bx"/>
<path d="M359.55 192h1.97M359.55 202h1.97" class="cp"/>
<path d="M358.56 197h3.94" class="md"/>
<path d="M368.42 187.4V189.4" class="wk"/>
<path d="M368.42 198.4V196.4" class="wk"/>
<rect x="366.45" y="189.4" width="3.94" height="7" class="bx"/>
<path d="M367.43 187.4h1.97M367.43 198.4h1.97" class="cp"/>
<path d="M366.45 192.6h3.94" class="md"/>
<path d="M376.3 158.6V160.4" class="wk"/>
<rect x="374.33" y="160.4" width="3.94" height="15.2" class="bx"/>
<path d="M375.32 158.6h1.97M375.32 175.6h1.97" class="cp"/>
<path d="M374.33 168.4h3.94" class="md"/>
<path d="M384.19 179V182.4" class="wk"/>
<path d="M384.19 196.4V193.6" class="wk"/>
<rect x="382.22" y="182.4" width="3.94" height="11.2" class="bx"/>
<path d="M383.2 179h1.97M383.2 196.4h1.97" class="cp"/>
<path d="M382.22 188h3.94" class="md"/>
<path d="M392.07 178V178.4" class="wk"/>
<path d="M392.07 192.4V191.4" class="wk"/>
<rect x="390.1" y="178.4" width="3.94" height="13" class="bx"/>
<path d="M391.09 178h1.97M391.09 192.4h1.97" class="cp"/>
<path d="M390.1 184.4h3.94" class="md"/>
<path d="M399.96 187.6V188.4" class="wk"/>
<rect x="397.99" y="188.4" width="3.94" height="7.6" class="bx"/>
<path d="M398.97 187.6h1.97M398.97 196h1.97" class="cp"/>
<path d="M397.99 193.6h3.94" class="md"/>
<path d="M399.16 183h1.6M399.96 182.2v1.6" class="ol"/>
<rect x="301.4" y="131.5" width="102.5" height="82.7" class="ax"/></g>
<g><text x="493.5" y="129.6" class="tt">C17-F9</text>
<text transform="translate(442.1,139.2) scale(0.9,1)" class="yl">1600</text>
<text transform="translate(442.1,151.4) scale(0.9,1)" class="yl">1400</text>
<text transform="translate(442.1,165.9) scale(0.9,1)" class="yl">1200</text>
<text transform="translate(442.1,182.1) scale(0.9,1)" class="yl">1000</text>
<text transform="translate(442.1,202.1) scale(0.9,1)" class="yl">800</text>
<text transform="translate(427.02,172.95) rotate(-90)" class="lab">objective function</text>
<text transform="translate(449.52,215.7) rotate(-90)" class="xl">LOA</text>
<text transform="translate(457.22,215.7) rotate(-90)" class="xl">WSO</text>
<text transform="translate(464.91,215.7) rotate(-90)" class="xl">AVOA</text>
<text transform="translate(472.6,215.7) rotate(-90)" class="xl">RSA</text>
<text transform="translate(480.29,215.7) rotate(-90)" class="xl">MPA</text>
<text transform="translate(487.99,215.7) rotate(-90)" class="xl">TSA</text>
<text transform="translate(495.68,215.7) rotate(-90)" class="xl">WOA</text>
<text transform="translate(503.37,215.7) rotate(-90)" class="xl">MVO</text>
<text transform="translate(511.06,215.7) rotate(-90)" class="xl">GWO</text>
<text transform="translate(518.75,215.7) rotate(-90)" class="xl">TLBO</text>
<text transform="translate(526.45,215.7) rotate(-90)" class="xl">GSA</text>
<text transform="translate(534.14,215.7) rotate(-90)" class="xl">PSO</text>
<text transform="translate(541.83,215.7) rotate(-90)" class="xl">GA</text>
<text x="493.5" y="241.4" class="lab">algorithm</text>
<path d="M447.35 214.4v-1.5M447.35 131.5v1.5M455.04 214.4v-1.5M455.04 131.5v1.5M462.73 214.4v-1.5M462.73 131.5v1.5M470.42 214.4v-1.5M470.42 131.5v1.5M478.12 214.4v-1.5M478.12 131.5v1.5M485.81 214.4v-1.5M485.81 131.5v1.5M493.5 214.4v-1.5M493.5 131.5v1.5M501.19 214.4v-1.5M501.19 131.5v1.5M508.88 214.4v-1.5M508.88 131.5v1.5M516.58 214.4v-1.5M516.58 131.5v1.5M524.27 214.4v-1.5M524.27 131.5v1.5M531.96 214.4v-1.5M531.96 131.5v1.5M539.65 214.4v-1.5M539.65 131.5v1.5M443.5 136.3h1.5M543.5 136.3h-1.5M443.5 148.5h1.5M543.5 148.5h-1.5M443.5 163h1.5M543.5 163h-1.5M443.5 179.2h1.5M543.5 179.2h-1.5M443.5 199.2h1.5M543.5 199.2h-1.5M443.5 211.51h1.2M543.5 211.51h-1.2M443.5 205.25h1.2M543.5 205.25h-1.2M443.5 193.89h1.2M543.5 193.89h-1.2M443.5 188.7h1.2M543.5 188.7h-1.2M443.5 183.79h1.2M543.5 183.79h-1.2M443.5 174.71h1.2M543.5 174.71h-1.2M443.5 170.49h1.2M543.5 170.49h-1.2M443.5 166.45h1.2M543.5 166.45h-1.2M443.5 158.89h1.2M543.5 158.89h-1.2M443.5 155.33h1.2M543.5 155.33h-1.2M443.5 151.9h1.2M543.5 151.9h-1.2M443.5 145.41h1.2M543.5 145.41h-1.2M443.5 142.34h1.2M543.5 142.34h-1.2M443.5 139.36h1.2M543.5 139.36h-1.2M443.5 133.69h1.2M543.5 133.69h-1.2" class="tk"/>
<rect x="445.42" y="189" width="3.85" height="0" class="bx"/>
<path d="M445.42 189h3.85" class="md"/>
<path d="M455.04 139.4V142" class="wk"/>
<rect x="453.12" y="142" width="3.85" height="12.4" class="bx"/>
<path d="M454.08 139.4h1.92M454.08 154.4h1.92" class="cp"/>
<path d="M453.12 147.4h3.85" class="md"/>
<path d="M454.24 158h1.6M455.04 157.2v1.6" class="ol"/>
<path d="M462.73 134V148.6" class="wk"/>
<path d="M462.73 184V183" class="wk"/>
<rect x="460.81" y="148.6" width="3.85" height="34.4" class="bx"/>
<path d="M461.77 134h1.92M461.77 184h1.92" class="cp"/>
<path d="M460.81 173.6h3.85" class="md"/>
<path d="M470.42 140.6V141.4" class="wk"/>
<path d="M470.42 151V149.4" class="wk"/>
<rect x="468.5" y="141.4" width="3.85" height="8" class="bx"/>
<path d="M469.46 140.6h1.92M469.46 151h1.92" class="cp"/>
<path d="M468.5 146.4h3.85" class="md"/>
<path d="M469.62 137.4h1.6M470.42 136.6v1.6" class="ol"/>
<rect x="476.19" y="187.8" width="3.85" height="1.6" class="bx"/>
<path d="M477.15 187.8h1.92M477.15 189.4h1.92" class="cp"/>
<path d="M476.19 188.6h3.85" class="md"/>
<path d="M485.81 139.4V140.4" class="wk"/>
<rect x="483.88" y="140.4" width="3.85" height="21.4" class="bx"/>
<path d="M484.85 139.4h1.92M484.85 161.8h1.92" class="cp"/>
<path d="M483.88 153h3.85" class="md"/>
<path d="M485.01 133.4h1.6M485.81 132.6v1.6" class="ol"/>
<path d="M485.01 136h1.6M485.81 135.2v1.6" class="ol"/>
<path d="M485.01 165h1.6M485.81 164.2v1.6" class="ol"/>
<path d="M493.5 139V139.6" class="wk"/>
<path d="M493.5 169V164" class="wk"/>
<rect x="491.58" y="139.6" width="3.85" height="24.4" class="bx"/>
<path d="M492.54 139h1.92M492.54 169h1.92" class="cp"/>
<path d="M491.58 150.4h3.85" class="md"/>
<path d="M492.7 134h1.6M493.5 133.2v1.6" class="ol"/>
<path d="M492.7 172.4h1.6M493.5 171.6v1.6" class="ol"/>
<rect x="499.27" y="188.6" width="3.85" height="0.8" class="bx"/>
<path d="M500.23 188.6h1.92M500.23 189.4h1.92" class="cp"/>
<path d="M499.27 189h3.85" class="md"/>
<path d="M508.88 186V186.6" class="wk"/>
<rect x="506.96" y="186.6" width="3.85" height="2.4" class="bx"/>
<path d="M507.92 186h1.92M507.92 189h1.92" class="cp"/>
<path d="M506.96 188h3.85" class="md"/>
<rect x="514.65" y="187" width="3.85" height="1.4" class="bx"/>
<path d="M515.62 187h1.92M515.62 188.4h1.92" class="cp"/>
<path d="M514.65 187.6h3.85" class="md"/>
<rect x="522.35" y="189" width="3.85" height="0" class="bx"/>
<path d="M523.31 189h1.92M523.31 189h1.92" class="cp"/>
<path d="M522.35 189h3.85" class="md"/>
<rect x="530.04" y="187.8" width="3.85" height="1.2" class="bx"/>
<path d="M531 187.8h1.92M531 189h1.92" class="cp"/>
<path d="M530.04 188.4h3.85" class="md"/>
<rect x="537.73" y="187.8" width="3.85" height="1.2" class="bx"/>
<path d="M538.69 187.8h1.92M538.69 189h1.92" class="cp"/>
<path d="M537.73 188.4h3.85" class="md"/>
<rect x="443.5" y="131.5" width="100" height="82.9" class="ax"/></g>
<g><text x="75.45" y="250.6" class="tt">C17-F10</text>
<text transform="translate(24,266.3) scale(0.9,1)" class="yl">2500</text>
<text transform="translate(24,282.3) scale(0.9,1)" class="yl">2000</text>
<text transform="translate(24,302.6) scale(0.9,1)" class="yl">1500</text>
<text transform="translate(24,330.6) scale(0.9,1)" class="yl">1000</text>
<text transform="translate(8.92,293.9) rotate(-90)" class="lab">objective function</text>
<text transform="translate(31.43,336.6) rotate(-90)" class="xl">LOA</text>
<text transform="translate(39.13,336.6) rotate(-90)" class="xl">WSO</text>
<text transform="translate(46.83,336.6) rotate(-90)" class="xl">AVOA</text>
<text transform="translate(54.53,336.6) rotate(-90)" class="xl">RSA</text>
<text transform="translate(62.23,336.6) rotate(-90)" class="xl">MPA</text>
<text transform="translate(69.93,336.6) rotate(-90)" class="xl">TSA</text>
<text transform="translate(77.63,336.6) rotate(-90)" class="xl">WOA</text>
<text transform="translate(85.33,336.6) rotate(-90)" class="xl">MVO</text>
<text transform="translate(93.03,336.6) rotate(-90)" class="xl">GWO</text>
<text transform="translate(100.73,336.6) rotate(-90)" class="xl">TLBO</text>
<text transform="translate(108.43,336.6) rotate(-90)" class="xl">GSA</text>
<text transform="translate(116.13,336.6) rotate(-90)" class="xl">PSO</text>
<text transform="translate(123.83,336.6) rotate(-90)" class="xl">GA</text>
<text x="75.45" y="362.3" class="lab">algorithm</text>
<path d="M29.25 335.3v-1.5M29.25 252.5v1.5M36.95 335.3v-1.5M36.95 252.5v1.5M44.65 335.3v-1.5M44.65 252.5v1.5M52.35 335.3v-1.5M52.35 252.5v1.5M60.05 335.3v-1.5M60.05 252.5v1.5M67.75 335.3v-1.5M67.75 252.5v1.5M75.45 335.3v-1.5M75.45 252.5v1.5M83.15 335.3v-1.5M83.15 252.5v1.5M90.85 335.3v-1.5M90.85 252.5v1.5M98.55 335.3v-1.5M98.55 252.5v1.5M106.25 335.3v-1.5M106.25 252.5v1.5M113.95 335.3v-1.5M113.95 252.5v1.5M121.65 335.3v-1.5M121.65 252.5v1.5M25.4 263.4h1.5M125.5 263.4h-1.5M25.4 279.4h1.5M125.5 279.4h-1.5M25.4 299.7h1.5M125.5 299.7h-1.5M25.4 327.7h1.5M125.5 327.7h-1.5M25.4 321.19h1.2M125.5 321.19h-1.2M25.4 315.09h1.2M125.5 315.09h-1.2M25.4 309.48h1.2M125.5 309.48h-1.2M25.4 304.28h1.2M125.5 304.28h-1.2M25.4 294.91h1.2M125.5 294.91h-1.2M25.4 290.66h1.2M125.5 290.66h-1.2M25.4 286.65h1.2M125.5 286.65h-1.2M25.4 282.86h1.2M125.5 282.86h-1.2M25.4 275.84h1.2M125.5 275.84h-1.2M25.4 272.58h1.2M125.5 272.58h-1.2M25.4 269.46h1.2M125.5 269.46h-1.2M25.4 266.48h1.2M125.5 266.48h-1.2M25.4 260.87h1.2M125.5 260.87h-1.2M25.4 258.22h1.2M125.5 258.22h-1.2M25.4 255.67h1.2M125.5 255.67h-1.2M25.4 253.21h1.2M125.5 253.21h-1.2" class="tk"/>
<rect x="27.32" y="327.2" width="3.85" height="0.8" class="bx"/>
<path d="M28.29 327.2h1.92M28.29 328h1.92" class="cp"/>
<path d="M27.32 327.6h3.85" class="md"/>
<path d="M36.95 266.4V267" class="wk"/>
<rect x="35.02" y="267" width="3.85" height="8.4" class="bx"/>
<path d="M35.99 266.4h1.92M35.99 275.4h1.92" class="cp"/>
<path d="M35.02 269h3.85" class="md"/>
<path d="M36.15 280.4h1.6M36.95 279.6v1.6" class="ol"/>
<path d="M44.65 267.6V278.4" class="wk"/>
<rect x="42.73" y="278.4" width="3.85" height="22.6" class="bx"/>
<path d="M43.69 267.6h1.92M43.69 301h1.92" class="cp"/>
<path d="M42.73 295.6h3.85" class="md"/>
<path d="M52.35 258.4V259" class="wk"/>
<rect x="50.42" y="259" width="3.85" height="8.6" class="bx"/>
<path d="M51.39 258.4h1.92M51.39 267.6h1.92" class="cp"/>
<path d="M50.42 265.6h3.85" class="md"/>
<path d="M51.55 254h1.6M52.35 253.2v1.6" class="ol"/>
<rect x="58.12" y="296.4" width="3.85" height="7" class="bx"/>
<path d="M59.09 296.4h1.92M59.09 303.4h1.92" class="cp"/>
<path d="M58.12 298.6h3.85" class="md"/>
<path d="M59.25 305.4h1.6M60.05 304.6v1.6" class="ol"/>
<path d="M67.75 271V271.6" class="wk"/>
<path d="M67.75 289.4V288" class="wk"/>
<rect x="65.83" y="271.6" width="3.85" height="16.4" class="bx"/>
<path d="M66.79 271h1.92M66.79 289.4h1.92" class="cp"/>
<path d="M65.83 279.4h3.85" class="md"/>
<path d="M75.45 265.6V266.2" class="wk"/>
<rect x="73.52" y="266.2" width="3.85" height="31.2" class="bx"/>
<path d="M74.49 265.6h1.92M74.49 297.4h1.92" class="cp"/>
<path d="M73.52 279.4h3.85" class="md"/>
<path d="M74.65 264.4h1.6M75.45 263.6v1.6" class="ol"/>
<path d="M74.65 302.6h1.6M75.45 301.8v1.6" class="ol"/>
<path d="M83.15 276.6V277.4" class="wk"/>
<rect x="81.22" y="277.4" width="3.85" height="25.2" class="bx"/>
<path d="M82.19 276.6h1.92M82.19 302.6h1.92" class="cp"/>
<path d="M81.22 292.4h3.85" class="md"/>
<path d="M82.35 272h1.6M83.15 271.2v1.6" class="ol"/>
<path d="M90.85 285V286" class="wk"/>
<path d="M90.85 299V296" class="wk"/>
<rect x="88.92" y="286" width="3.85" height="10" class="bx"/>
<path d="M89.89 285h1.92M89.89 299h1.92" class="cp"/>
<path d="M88.92 292.6h3.85" class="md"/>
<path d="M90.05 281.6h1.6M90.85 280.8v1.6" class="ol"/>
<path d="M98.55 266V269" class="wk"/>
<rect x="96.62" y="269" width="3.85" height="13" class="bx"/>
<path d="M97.59 266h1.92M97.59 282h1.92" class="cp"/>
<path d="M96.62 273.4h3.85" class="md"/>
<path d="M97.75 287.4h1.6M98.55 286.6v1.6" class="ol"/>
<path d="M106.25 268.4V269" class="wk"/>
<rect x="104.33" y="269" width="3.85" height="6" class="bx"/>
<path d="M105.29 268.4h1.92M105.29 275h1.92" class="cp"/>
<path d="M104.33 269.4h3.85" class="md"/>
<path d="M105.45 280h1.6M106.25 279.2v1.6" class="ol"/>
<rect x="112.02" y="275.4" width="3.85" height="16" class="bx"/>
<path d="M112.99 275h1.92M112.99 291.4h1.92" class="cp"/>
<path d="M112.02 283h3.85" class="md"/>
<path d="M113.15 270.4h1.6M113.95 269.6v1.6" class="ol"/>
<path d="M113.15 297.4h1.6M113.95 296.6v1.6" class="ol"/>
<path d="M121.65 282.4V283.4" class="wk"/>
<rect x="119.72" y="283.4" width="3.85" height="16.6" class="bx"/>
<path d="M120.69 282.4h1.92M120.69 300h1.92" class="cp"/>
<path d="M119.72 293h3.85" class="md"/>
<path d="M120.85 277h1.6M121.65 276.2v1.6" class="ol"/>
<path d="M120.85 304h1.6M121.65 303.2v1.6" class="ol"/>
<rect x="25.4" y="252.5" width="100.1" height="82.8" class="ax"/></g>
<g><text x="214.8" y="250.6" class="tt">C17-F11</text>
<text transform="translate(163.7,261.4) scale(0.9,1)" class="yl">6000</text>
<text transform="translate(163.7,269.9) scale(0.9,1)" class="yl">5000</text>
<text transform="translate(163.7,280.1) scale(0.9,1)" class="yl">4000</text>
<text transform="translate(163.7,293) scale(0.9,1)" class="yl">3000</text>
<text transform="translate(163.7,310.7) scale(0.9,1)" class="yl">2000</text>
<text transform="translate(148.62,293.9) rotate(-90)" class="lab">objective function</text>
<text transform="translate(171.1,336.6) rotate(-90)" class="xl">LOA</text>
<text transform="translate(178.75,336.6) rotate(-90)" class="xl">WSO</text>
<text transform="translate(186.39,336.6) rotate(-90)" class="xl">AVOA</text>
<text transform="translate(194.04,336.6) rotate(-90)" class="xl">RSA</text>
<text transform="translate(201.69,336.6) rotate(-90)" class="xl">MPA</text>
<text transform="translate(209.33,336.6) rotate(-90)" class="xl">TSA</text>
<text transform="translate(216.98,336.6) rotate(-90)" class="xl">WOA</text>
<text transform="translate(224.62,336.6) rotate(-90)" class="xl">MVO</text>
<text transform="translate(232.27,336.6) rotate(-90)" class="xl">GWO</text>
<text transform="translate(239.92,336.6) rotate(-90)" class="xl">TLBO</text>
<text transform="translate(247.56,336.6) rotate(-90)" class="xl">GSA</text>
<text transform="translate(255.21,336.6) rotate(-90)" class="xl">PSO</text>
<text transform="translate(262.85,336.6) rotate(-90)" class="xl">GA</text>
<text x="214.8" y="362.3" class="lab">algorithm</text>
<path d="M168.92 335.3v-1.5M168.92 252.5v1.5M176.57 335.3v-1.5M176.57 252.5v1.5M184.22 335.3v-1.5M184.22 252.5v1.5M191.86 335.3v-1.5M191.86 252.5v1.5M199.51 335.3v-1.5M199.51 252.5v1.5M207.15 335.3v-1.5M207.15 252.5v1.5M214.8 335.3v-1.5M214.8 252.5v1.5M222.45 335.3v-1.5M222.45 252.5v1.5M230.09 335.3v-1.5M230.09 252.5v1.5M237.74 335.3v-1.5M237.74 252.5v1.5M245.38 335.3v-1.5M245.38 252.5v1.5M253.03 335.3v-1.5M253.03 252.5v1.5M260.68 335.3v-1.5M260.68 252.5v1.5M165.1 258.5h1.5M264.5 258.5h-1.5M165.1 267h1.5M264.5 267h-1.5M165.1 277.2h1.5M264.5 277.2h-1.5M165.1 290.1h1.5M264.5 290.1h-1.5M165.1 307.8h1.5M264.5 307.8h-1.5M165.1 330.95h1.2M264.5 330.95h-1.2M165.1 324.04h1.2M264.5 324.04h-1.2M165.1 318.05h1.2M264.5 318.05h-1.2M165.1 312.77h1.2M264.5 312.77h-1.2M165.1 303.77h1.2M264.5 303.77h-1.2M165.1 299.87h1.2M264.5 299.87h-1.2M165.1 296.28h1.2M264.5 296.28h-1.2M165.1 292.96h1.2M264.5 292.96h-1.2M165.1 286.97h1.2M264.5 286.97h-1.2M165.1 284.25h1.2M264.5 284.25h-1.2M165.1 281.69h1.2M264.5 281.69h-1.2M165.1 279.26h1.2M264.5 279.26h-1.2M165.1 274.77h1.2M264.5 274.77h-1.2M165.1 272.69h1.2M264.5 272.69h-1.2M165.1 270.69h1.2M264.5 270.69h-1.2M165.1 268.78h1.2M264.5 268.78h-1.2M165.1 265.19h1.2M264.5 265.19h-1.2M165.1 263.5h1.2M264.5 263.5h-1.2M165.1 261.87h1.2M264.5 261.87h-1.2M165.1 260.3h1.2M264.5 260.3h-1.2M165.1 257.31h1.2M264.5 257.31h-1.2M165.1 255.88h1.2M264.5 255.88h-1.2M165.1 254.5h1.2M264.5 254.5h-1.2M165.1 253.16h1.2M264.5 253.16h-1.2" class="tk"/>
<rect x="167.01" y="334.3" width="3.82" height="0" class="bx"/>
<path d="M167.01 334.3h3.82" class="md"/>
<path d="M176.57 273V275.4" class="wk"/>
<path d="M176.57 303V299" class="wk"/>
<rect x="174.66" y="275.4" width="3.82" height="23.6" class="bx"/>
<path d="M175.61 273h1.91M175.61 303h1.91" class="cp"/>
<path d="M174.66 285.4h3.82" class="md"/>
<path d="M175.77 271.6h1.6M176.57 270.8v1.6" class="ol"/>
<path d="M175.77 304.6h1.6M176.57 303.8v1.6" class="ol"/>
<rect x="182.3" y="332" width="3.82" height="2.4" class="bx"/>
<path d="M183.26 332h1.91M183.26 334.4h1.91" class="cp"/>
<path d="M182.3 333.4h3.82" class="md"/>
<path d="M191.86 257.4V262" class="wk"/>
<path d="M191.86 323V305.6" class="wk"/>
<rect x="189.95" y="262" width="3.82" height="43.6" class="bx"/>
<path d="M190.91 257.4h1.91M190.91 323h1.91" class="cp"/>
<path d="M189.95 278.4h3.82" class="md"/>
<rect x="197.6" y="333.2" width="3.82" height="1.2" class="bx"/>
<path d="M198.55 333.2h1.91M198.55 334.4h1.91" class="cp"/>
<path d="M197.6 334h3.82" class="md"/>
<rect x="205.24" y="263.6" width="3.82" height="1.6" class="bx"/>
<path d="M206.2 263.6h1.91M206.2 265.2h1.91" class="cp"/>
<path d="M205.24 264.4h3.82" class="md"/>
<rect x="212.89" y="332.4" width="3.82" height="1.6" class="bx"/>
<path d="M213.84 332.4h1.91M213.84 334h1.91" class="cp"/>
<path d="M212.89 333.2h3.82" class="md"/>
<rect x="220.53" y="333.9" width="3.82" height="0.6" class="bx"/>
<path d="M221.49 333.8h1.91M221.49 334.4h1.91" class="cp"/>
<path d="M220.53 334.2h3.82" class="md"/>
<rect x="228.18" y="331.6" width="3.82" height="2.4" class="bx"/>
<path d="M229.14 331.6h1.91M229.14 334h1.91" class="cp"/>
<path d="M228.18 333h3.82" class="md"/>
<path d="M229.29 330h1.6M230.09 329.2v1.6" class="ol"/>
<rect x="235.83" y="332.6" width="3.82" height="1" class="bx"/>
<path d="M236.78 332.6h1.91M236.78 333.6h1.91" class="cp"/>
<path d="M235.83 333h3.82" class="md"/>
<rect x="243.47" y="332.4" width="3.82" height="1.6" class="bx"/>
<path d="M244.43 332.4h1.91M244.43 334h1.91" class="cp"/>
<path d="M243.47 333.2h3.82" class="md"/>
<rect x="251.12" y="332.8" width="3.82" height="1" class="bx"/>
<path d="M252.08 332.8h1.91M252.08 333.8h1.91" class="cp"/>
<path d="M251.12 333.2h3.82" class="md"/>
<path d="M260.68 260V283" class="wk"/>
<rect x="258.77" y="283" width="3.82" height="51.4" class="bx"/>
<path d="M259.72 260h1.91M259.72 334.4h1.91" class="cp"/>
<path d="M258.77 330.6h3.82" class="md"/>
<rect x="165.1" y="252.5" width="99.4" height="82.8" class="ax"/></g>
<g><text x="352.35" y="250.6" class="tt">C17-F12</text>
<text x="299.2" y="271.9" class="yl">10<tspan class="ex" dy="-3.4">8</tspan></text>
<text x="299.2" y="299.3" class="yl">10<tspan class="ex" dy="-3.4">6</tspan></text>
<text x="299.2" y="326.9" class="yl">10<tspan class="ex" dy="-3.4">4</tspan></text>
<text transform="translate(287.89,293.9) rotate(-90)" class="lab">objective function</text>
<text transform="translate(306.76,336.6) rotate(-90)" class="xl">LOA</text>
<text transform="translate(314.72,336.6) rotate(-90)" class="xl">WSO</text>
<text transform="translate(322.68,336.6) rotate(-90)" class="xl">AVOA</text>
<text transform="translate(330.64,336.6) rotate(-90)" class="xl">RSA</text>
<text transform="translate(338.6,336.6) rotate(-90)" class="xl">MPA</text>
<text transform="translate(346.57,336.6) rotate(-90)" class="xl">TSA</text>
<text transform="translate(354.53,336.6) rotate(-90)" class="xl">WOA</text>
<text transform="translate(362.49,336.6) rotate(-90)" class="xl">MVO</text>
<text transform="translate(370.45,336.6) rotate(-90)" class="xl">GWO</text>
<text transform="translate(378.41,336.6) rotate(-90)" class="xl">TLBO</text>
<text transform="translate(386.37,336.6) rotate(-90)" class="xl">GSA</text>
<text transform="translate(394.34,336.6) rotate(-90)" class="xl">PSO</text>
<text transform="translate(402.3,336.6) rotate(-90)" class="xl">GA</text>
<text x="352.35" y="362.3" class="lab">algorithm</text>
<path d="M304.58 335.3v-1.5M304.58 252.5v1.5M312.54 335.3v-1.5M312.54 252.5v1.5M320.5 335.3v-1.5M320.5 252.5v1.5M328.47 335.3v-1.5M328.47 252.5v1.5M336.43 335.3v-1.5M336.43 252.5v1.5M344.39 335.3v-1.5M344.39 252.5v1.5M352.35 335.3v-1.5M352.35 252.5v1.5M360.31 335.3v-1.5M360.31 252.5v1.5M368.27 335.3v-1.5M368.27 252.5v1.5M376.23 335.3v-1.5M376.23 252.5v1.5M384.2 335.3v-1.5M384.2 252.5v1.5M392.16 335.3v-1.5M392.16 252.5v1.5M400.12 335.3v-1.5M400.12 252.5v1.5M300.6 268.5h1.5M404.1 268.5h-1.5M300.6 295.9h1.5M404.1 295.9h-1.5M300.6 323.5h1.5M404.1 323.5h-1.5M300.6 333.11h1.2M404.1 333.11h-1.2M300.6 330.69h1.2M404.1 330.69h-1.2M300.6 328.97h1.2M404.1 328.97h-1.2M300.6 327.64h1.2M404.1 327.64h-1.2M300.6 326.55h1.2M404.1 326.55h-1.2M300.6 325.63h1.2M404.1 325.63h-1.2M300.6 324.83h1.2M404.1 324.83h-1.2M300.6 324.13h1.2M404.1 324.13h-1.2M300.6 323.5h1.5M404.1 323.5h-1.5M300.6 319.36h1.2M404.1 319.36h-1.2M300.6 316.94h1.2M404.1 316.94h-1.2M300.6 315.22h1.2M404.1 315.22h-1.2M300.6 313.89h1.2M404.1 313.89h-1.2M300.6 312.8h1.2M404.1 312.8h-1.2M300.6 311.88h1.2M404.1 311.88h-1.2M300.6 311.08h1.2M404.1 311.08h-1.2M300.6 310.38h1.2M404.1 310.38h-1.2M300.6 309.75h1.5M404.1 309.75h-1.5M300.6 305.61h1.2M404.1 305.61h-1.2M300.6 303.19h1.2M404.1 303.19h-1.2M300.6 301.47h1.2M404.1 301.47h-1.2M300.6 300.14h1.2M404.1 300.14h-1.2M300.6 299.05h1.2M404.1 299.05h-1.2M300.6 298.13h1.2M404.1 298.13h-1.2M300.6 297.33h1.2M404.1 297.33h-1.2M300.6 296.63h1.2M404.1 296.63h-1.2M300.6 296h1.5M404.1 296h-1.5M300.6 291.86h1.2M404.1 291.86h-1.2M300.6 289.44h1.2M404.1 289.44h-1.2M300.6 287.72h1.2M404.1 287.72h-1.2M300.6 286.39h1.2M404.1 286.39h-1.2M300.6 285.3h1.2M404.1 285.3h-1.2M300.6 284.38h1.2M404.1 284.38h-1.2M300.6 283.58h1.2M404.1 283.58h-1.2M300.6 282.88h1.2M404.1 282.88h-1.2M300.6 282.25h1.5M404.1 282.25h-1.5M300.6 278.11h1.2M404.1 278.11h-1.2M300.6 275.69h1.2M404.1 275.69h-1.2M300.6 273.97h1.2M404.1 273.97h-1.2M300.6 272.64h1.2M404.1 272.64h-1.2M300.6 271.55h1.2M404.1 271.55h-1.2M300.6 270.63h1.2M404.1 270.63h-1.2M300.6 269.83h1.2M404.1 269.83h-1.2M300.6 269.13h1.2M404.1 269.13h-1.2M300.6 268.5h1.5M404.1 268.5h-1.5M300.6 264.36h1.2M404.1 264.36h-1.2M300.6 261.94h1.2M404.1 261.94h-1.2M300.6 260.22h1.2M404.1 260.22h-1.2M300.6 258.89h1.2M404.1 258.89h-1.2M300.6 257.8h1.2M404.1 257.8h-1.2M300.6 256.88h1.2M404.1 256.88h-1.2M300.6 256.08h1.2M404.1 256.08h-1.2M300.6 255.38h1.2M404.1 255.38h-1.2M300.6 254.75h1.5M404.1 254.75h-1.5" class="tk"/>
<rect x="302.59" y="334.3" width="3.98" height="0" class="bx"/>
<path d="M302.59 334.3h3.98" class="md"/>
<path d="M312.54 257.4V258" class="wk"/>
<rect x="310.55" y="258" width="3.98" height="8.4" class="bx"/>
<path d="M311.55 257.4h1.99M311.55 266.4h1.99" class="cp"/>
<path d="M310.55 260.4h3.98" class="md"/>
<path d="M311.74 269.4h1.6M312.54 268.6v1.6" class="ol"/>
<path d="M320.5 292V293" class="wk"/>
<path d="M320.5 302V300.6" class="wk"/>
<rect x="318.51" y="293" width="3.98" height="7.6" class="bx"/>
<path d="M319.51 292h1.99M319.51 302h1.99" class="cp"/>
<path d="M318.51 295.6h3.98" class="md"/>
<path d="M328.47 253V254" class="wk"/>
<path d="M328.47 265V263.4" class="wk"/>
<rect x="326.48" y="254" width="3.98" height="9.4" class="bx"/>
<path d="M327.47 253h1.99M327.47 265h1.99" class="cp"/>
<path d="M326.48 256.4h3.98" class="md"/>
<path d="M336.43 296.6V297.4" class="wk"/>
<path d="M336.43 319V302.6" class="wk"/>
<rect x="334.44" y="297.4" width="3.98" height="5.2" class="bx"/>
<path d="M335.43 296.6h1.99M335.43 319h1.99" class="cp"/>
<path d="M334.44 298.4h3.98" class="md"/>
<path d="M344.39 293.6V294.4" class="wk"/>
<path d="M344.39 299V297.4" class="wk"/>
<rect x="342.4" y="294.4" width="3.98" height="3" class="bx"/>
<path d="M343.39 293.6h1.99M343.39 299h1.99" class="cp"/>
<path d="M342.4 295h3.98" class="md"/>
<path d="M352.35 287.4V288.4" class="wk"/>
<path d="M352.35 306V296.4" class="wk"/>
<rect x="350.36" y="288.4" width="3.98" height="8" class="bx"/>
<path d="M351.35 287.4h1.99M351.35 306h1.99" class="cp"/>
<path d="M350.36 290h3.98" class="md"/>
<path d="M360.31 291V292.4" class="wk"/>
<path d="M360.31 324V307.6" class="wk"/>
<rect x="358.32" y="292.4" width="3.98" height="15.2" class="bx"/>
<path d="M359.32 291h1.99M359.32 324h1.99" class="cp"/>
<path d="M358.32 300.6h3.98" class="md"/>
<path d="M359.51 288.6h1.6M360.31 287.8v1.6" class="ol"/>
<path d="M368.27 291V291.6" class="wk"/>
<path d="M368.27 314V297.4" class="wk"/>
<rect x="366.28" y="291.6" width="3.98" height="5.8" class="bx"/>
<path d="M367.28 291h1.99M367.28 314h1.99" class="cp"/>
<path d="M366.28 292.4h3.98" class="md"/>
<path d="M376.23 282.4V283" class="wk"/>
<rect x="374.24" y="283" width="3.98" height="10.4" class="bx"/>
<path d="M375.24 282.4h1.99M375.24 293.4h1.99" class="cp"/>
<path d="M374.24 286h3.98" class="md"/>
<path d="M384.2 292.6V293.6" class="wk"/>
<path d="M384.2 300V298.6" class="wk"/>
<rect x="382.21" y="293.6" width="3.98" height="5" class="bx"/>
<path d="M383.2 292.6h1.99M383.2 300h1.99" class="cp"/>
<path d="M382.21 296h3.98" class="md"/>
<path d="M392.16 321.4V322" class="wk"/>
<path d="M392.16 331V329" class="wk"/>
<rect x="390.17" y="322" width="3.98" height="7" class="bx"/>
<path d="M391.16 321.4h1.99M391.16 331h1.99" class="cp"/>
<path d="M390.17 324.6h3.98" class="md"/>
<path d="M400.12 296V297" class="wk"/>
<path d="M400.12 305.4V302" class="wk"/>
<rect x="398.13" y="297" width="3.98" height="5" class="bx"/>
<path d="M399.12 296h1.99M399.12 305.4h1.99" class="cp"/>
<path d="M398.13 299h3.98" class="md"/>
<rect x="300.6" y="252.5" width="103.5" height="82.8" class="ax"/></g>
<g><text x="491.75" y="250.6" class="tt">C17-F13</text>
<text x="438.7" y="256.9" class="yl">10<tspan class="ex" dy="-3.4">8</tspan></text>
<text x="438.7" y="289.8" class="yl">10<tspan class="ex" dy="-3.4">6</tspan></text>
<text x="438.7" y="323.8" class="yl">10<tspan class="ex" dy="-3.4">4</tspan></text>
<text transform="translate(427.39,293.9) rotate(-90)" class="lab">objective function</text>
<text transform="translate(446.25,336.6) rotate(-90)" class="xl">LOA</text>
<text transform="translate(454.2,336.6) rotate(-90)" class="xl">WSO</text>
<text transform="translate(462.14,336.6) rotate(-90)" class="xl">AVOA</text>
<text transform="translate(470.09,336.6) rotate(-90)" class="xl">RSA</text>
<text transform="translate(478.04,336.6) rotate(-90)" class="xl">MPA</text>
<text transform="translate(485.98,336.6) rotate(-90)" class="xl">TSA</text>
<text transform="translate(493.93,336.6) rotate(-90)" class="xl">WOA</text>
<text transform="translate(501.87,336.6) rotate(-90)" class="xl">MVO</text>
<text transform="translate(509.82,336.6) rotate(-90)" class="xl">GWO</text>
<text transform="translate(517.77,336.6) rotate(-90)" class="xl">TLBO</text>
<text transform="translate(525.71,336.6) rotate(-90)" class="xl">GSA</text>
<text transform="translate(533.66,336.6) rotate(-90)" class="xl">PSO</text>
<text transform="translate(541.6,336.6) rotate(-90)" class="xl">GA</text>
<text x="491.75" y="362.3" class="lab">algorithm</text>
<path d="M444.07 335.3v-1.5M444.07 252.5v1.5M452.02 335.3v-1.5M452.02 252.5v1.5M459.97 335.3v-1.5M459.97 252.5v1.5M467.91 335.3v-1.5M467.91 252.5v1.5M475.86 335.3v-1.5M475.86 252.5v1.5M483.8 335.3v-1.5M483.8 252.5v1.5M491.75 335.3v-1.5M491.75 252.5v1.5M499.7 335.3v-1.5M499.7 252.5v1.5M507.64 335.3v-1.5M507.64 252.5v1.5M515.59 335.3v-1.5M515.59 252.5v1.5M523.53 335.3v-1.5M523.53 252.5v1.5M531.48 335.3v-1.5M531.48 252.5v1.5M539.43 335.3v-1.5M539.43 252.5v1.5M440.1 253.5h1.5M543.4 253.5h-1.5M440.1 286.4h1.5M543.4 286.4h-1.5M440.1 320.4h1.5M543.4 320.4h-1.5M440.1 330.8h1.2M543.4 330.8h-1.2M440.1 327.9h1.2M543.4 327.9h-1.2M440.1 325.85h1.2M543.4 325.85h-1.2M440.1 324.25h1.2M543.4 324.25h-1.2M440.1 322.95h1.2M543.4 322.95h-1.2M440.1 321.85h1.2M543.4 321.85h-1.2M440.1 320.89h1.2M543.4 320.89h-1.2M440.1 320.05h1.2M543.4 320.05h-1.2M440.1 319.3h1.5M543.4 319.3h-1.5M440.1 314.35h1.2M543.4 314.35h-1.2M440.1 311.45h1.2M543.4 311.45h-1.2M440.1 309.4h1.2M543.4 309.4h-1.2M440.1 307.8h1.2M543.4 307.8h-1.2M440.1 306.5h1.2M543.4 306.5h-1.2M440.1 305.4h1.2M543.4 305.4h-1.2M440.1 304.44h1.2M543.4 304.44h-1.2M440.1 303.6h1.2M543.4 303.6h-1.2M440.1 302.85h1.5M543.4 302.85h-1.5M440.1 297.9h1.2M543.4 297.9h-1.2M440.1 295h1.2M543.4 295h-1.2M440.1 292.95h1.2M543.4 292.95h-1.2M440.1 291.35h1.2M543.4 291.35h-1.2M440.1 290.05h1.2M543.4 290.05h-1.2M440.1 288.95h1.2M543.4 288.95h-1.2M440.1 287.99h1.2M543.4 287.99h-1.2M440.1 287.15h1.2M543.4 287.15h-1.2M440.1 286.4h1.5M543.4 286.4h-1.5M440.1 281.45h1.2M543.4 281.45h-1.2M440.1 278.55h1.2M543.4 278.55h-1.2M440.1 276.5h1.2M543.4 276.5h-1.2M440.1 274.9h1.2M543.4 274.9h-1.2M440.1 273.6h1.2M543.4 273.6h-1.2M440.1 272.5h1.2M543.4 272.5h-1.2M440.1 271.54h1.2M543.4 271.54h-1.2M440.1 270.7h1.2M543.4 270.7h-1.2M440.1 269.95h1.5M543.4 269.95h-1.5M440.1 265h1.2M543.4 265h-1.2M440.1 262.1h1.2M543.4 262.1h-1.2M440.1 260.05h1.2M543.4 260.05h-1.2M440.1 258.45h1.2M543.4 258.45h-1.2M440.1 257.15h1.2M543.4 257.15h-1.2M440.1 256.05h1.2M543.4 256.05h-1.2M440.1 255.09h1.2M543.4 255.09h-1.2M440.1 254.25h1.2M543.4 254.25h-1.2M440.1 253.5h1.5M543.4 253.5h-1.5" class="tk"/>
<rect x="442.09" y="334.3" width="3.97" height="0" class="bx"/>
<path d="M442.09 334.3h3.97" class="md"/>
<path d="M452.02 261V262" class="wk"/>
<path d="M452.02 282V278.4" class="wk"/>
<rect x="450.03" y="262" width="3.97" height="16.4" class="bx"/>
<path d="M451.03 261h1.99M451.03 282h1.99" class="cp"/>
<path d="M450.03 275.4h3.97" class="md"/>
<path d="M451.22 257.4h1.6M452.02 256.6v1.6" class="ol"/>
<path d="M459.97 328.6V325" class="wk"/>
<rect x="457.98" y="312.4" width="3.97" height="12.6" class="bx"/>
<path d="M458.97 312.4h1.99M458.97 328.6h1.99" class="cp"/>
<path d="M457.98 315.4h3.97" class="md"/>
<path d="M467.91 256V257" class="wk"/>
<path d="M467.91 279V273.4" class="wk"/>
<rect x="465.93" y="257" width="3.97" height="16.4" class="bx"/>
<path d="M466.92 256h1.99M466.92 279h1.99" class="cp"/>
<path d="M465.93 270.4h3.97" class="md"/>
<path d="M467.11 252.4h1.6M467.91 251.6v1.6" class="ol"/>
<rect x="473.87" y="324" width="3.97" height="3" class="bx"/>
<path d="M474.86 324h1.99M474.86 327h1.99" class="cp"/>
<path d="M473.87 325h3.97" class="md"/>
<path d="M483.8 315.4V316.6" class="wk"/>
<rect x="481.82" y="316.6" width="3.97" height="5.4" class="bx"/>
<path d="M482.81 315.4h1.99M482.81 322h1.99" class="cp"/>
<path d="M481.82 319.4h3.97" class="md"/>
<path d="M491.75 317.4V319.4" class="wk"/>
<rect x="489.76" y="319.4" width="3.97" height="8.6" class="bx"/>
<path d="M490.76 317.4h1.99M490.76 328h1.99" class="cp"/>
<path d="M489.76 324.4h3.97" class="md"/>
<path d="M499.7 334.8V333" class="wk"/>
<rect x="497.71" y="319.4" width="3.97" height="13.6" class="bx"/>
<path d="M498.7 319.4h1.99M498.7 334.8h1.99" class="cp"/>
<path d="M497.71 323.6h3.97" class="md"/>
<path d="M507.64 318V319" class="wk"/>
<path d="M507.64 323V322" class="wk"/>
<rect x="505.66" y="319" width="3.97" height="3" class="bx"/>
<path d="M506.65 318h1.99M506.65 323h1.99" class="cp"/>
<path d="M505.66 320.4h3.97" class="md"/>
<rect x="513.6" y="315.6" width="3.97" height="1.4" class="bx"/>
<path d="M514.6 315.6h1.99M514.6 317h1.99" class="cp"/>
<path d="M513.6 316.4h3.97" class="md"/>
<path d="M523.53 318V319" class="wk"/>
<path d="M523.53 325.4V323" class="wk"/>
<rect x="521.55" y="319" width="3.97" height="4" class="bx"/>
<path d="M522.54 318h1.99M522.54 325.4h1.99" class="cp"/>
<path d="M521.55 320.6h3.97" class="md"/>
<path d="M531.48 319V320.4" class="wk"/>
<rect x="529.49" y="320.4" width="3.97" height="10.2" class="bx"/>
<path d="M530.49 319h1.99M530.49 330.6h1.99" class="cp"/>
<path d="M529.49 327.6h3.97" class="md"/>
<path d="M530.68 316.6h1.6M531.48 315.8v1.6" class="ol"/>
<path d="M539.43 303V304.2" class="wk"/>
<path d="M539.43 321V320" class="wk"/>
<rect x="537.44" y="304.2" width="3.97" height="15.8" class="bx"/>
<path d="M538.43 303h1.99M538.43 321h1.99" class="cp"/>
<path d="M537.44 318h3.97" class="md"/>
<path d="M538.63 299h1.6M539.43 298.2v1.6" class="ol"/>
<rect x="440.1" y="252.5" width="103.3" height="82.8" class="ax"/></g>
<g><text x="73.55" y="370.8" class="tt">C17-F14</text>
<text x="20.2" y="403.4" class="yl">10<tspan class="ex" dy="-3.4">4</tspan></text>
<text transform="translate(8.89,414.4) rotate(-90)" class="lab">objective function</text>
<text transform="translate(27.77,457.4) rotate(-90)" class="xl">LOA</text>
<text transform="translate(35.77,457.4) rotate(-90)" class="xl">WSO</text>
<text transform="translate(43.76,457.4) rotate(-90)" class="xl">AVOA</text>
<text transform="translate(51.75,457.4) rotate(-90)" class="xl">RSA</text>
<text transform="translate(59.74,457.4) rotate(-90)" class="xl">MPA</text>
<text transform="translate(67.74,457.4) rotate(-90)" class="xl">TSA</text>
<text transform="translate(75.73,457.4) rotate(-90)" class="xl">WOA</text>
<text transform="translate(83.72,457.4) rotate(-90)" class="xl">MVO</text>
<text transform="translate(91.71,457.4) rotate(-90)" class="xl">GWO</text>
<text transform="translate(99.7,457.4) rotate(-90)" class="xl">TLBO</text>
<text transform="translate(107.7,457.4) rotate(-90)" class="xl">GSA</text>
<text transform="translate(115.69,457.4) rotate(-90)" class="xl">PSO</text>
<text transform="translate(123.68,457.4) rotate(-90)" class="xl">GA</text>
<text x="73.55" y="483.1" class="lab">algorithm</text>
<path d="M25.6 456.1v-1.5M25.6 372.7v1.5M33.59 456.1v-1.5M33.59 372.7v1.5M41.58 456.1v-1.5M41.58 372.7v1.5M49.57 456.1v-1.5M49.57 372.7v1.5M57.57 456.1v-1.5M57.57 372.7v1.5M65.56 456.1v-1.5M65.56 372.7v1.5M73.55 456.1v-1.5M73.55 372.7v1.5M81.54 456.1v-1.5M81.54 372.7v1.5M89.53 456.1v-1.5M89.53 372.7v1.5M97.53 456.1v-1.5M97.53 372.7v1.5M105.52 456.1v-1.5M105.52 372.7v1.5M113.51 456.1v-1.5M113.51 372.7v1.5M121.5 456.1v-1.5M121.5 372.7v1.5M21.6 400h1.5M125.5 400h-1.5M21.6 445.08h1.2M125.5 445.08h-1.2M21.6 433.73h1.2M125.5 433.73h-1.2M21.6 425.67h1.2M125.5 425.67h-1.2M21.6 419.42h1.2M125.5 419.42h-1.2M21.6 414.31h1.2M125.5 414.31h-1.2M21.6 409.99h1.2M125.5 409.99h-1.2M21.6 406.25h1.2M125.5 406.25h-1.2M21.6 402.95h1.2M125.5 402.95h-1.2M21.6 400h1.5M125.5 400h-1.5M21.6 380.58h1.2M125.5 380.58h-1.2" class="tk"/>
<rect x="23.6" y="454.8" width="4" height="0" class="bx"/>
<path d="M23.6 454.8h4" class="md"/>
<path d="M33.59 420.4V424.4" class="wk"/>
<rect x="31.59" y="424.4" width="4" height="9" class="bx"/>
<path d="M32.59 420.4h2M32.59 433.4h2" class="cp"/>
<path d="M31.59 430.6h4" class="md"/>
<path d="M41.58 440.4V442" class="wk"/>
<rect x="39.58" y="442" width="4" height="9" class="bx"/>
<path d="M40.58 440.4h2M40.58 451h2" class="cp"/>
<path d="M39.58 449.4h4" class="md"/>
<path d="M40.78 437h1.6M41.58 436.2v1.6" class="ol"/>
<path d="M49.57 414.4V415.4" class="wk"/>
<rect x="47.58" y="415.4" width="4" height="6.6" class="bx"/>
<path d="M48.57 414.4h2M48.57 422h2" class="cp"/>
<path d="M47.58 421h4" class="md"/>
<path d="M48.77 411h1.6M49.57 410.2v1.6" class="ol"/>
<path d="M57.57 439.6V440.6" class="wk"/>
<rect x="55.57" y="440.6" width="4" height="14.2" class="bx"/>
<path d="M56.57 439.6h2M56.57 454.8h2" class="cp"/>
<path d="M55.57 450.2h4" class="md"/>
<path d="M56.77 435.6h1.6M57.57 434.8v1.6" class="ol"/>
<path d="M65.56 417.4V419.2" class="wk"/>
<rect x="63.56" y="419.2" width="4" height="34.8" class="bx"/>
<path d="M64.56 417.4h2M64.56 454h2" class="cp"/>
<path d="M63.56 432.6h4" class="md"/>
<rect x="71.55" y="452.8" width="4" height="1.6" class="bx"/>
<path d="M72.55 452.8h2M72.55 454.4h2" class="cp"/>
<path d="M71.55 453.6h4" class="md"/>
<path d="M81.54 449V450" class="wk"/>
<rect x="79.54" y="450" width="4" height="5" class="bx"/>
<path d="M80.54 449h2M80.54 455h2" class="cp"/>
<path d="M79.54 454.6h4" class="md"/>
<path d="M80.74 446.4h1.6M81.54 445.6v1.6" class="ol"/>
<path d="M89.53 421V433" class="wk"/>
<rect x="87.54" y="433" width="4" height="22" class="bx"/>
<path d="M88.54 421h2M88.54 455h2" class="cp"/>
<path d="M87.54 454.4h4" class="md"/>
<rect x="95.53" y="451.6" width="4" height="1.6" class="bx"/>
<path d="M96.53 451.6h2M96.53 453.2h2" class="cp"/>
<path d="M95.53 452.4h4" class="md"/>
<path d="M105.52 413V413.6" class="wk"/>
<rect x="103.52" y="413.6" width="4" height="9.4" class="bx"/>
<path d="M104.52 413h2M104.52 423h2" class="cp"/>
<path d="M103.52 420.4h4" class="md"/>
<path d="M104.72 409h1.6M105.52 408.2v1.6" class="ol"/>
<path d="M113.51 411V423.6" class="wk"/>
<rect x="111.51" y="423.6" width="4" height="31.4" class="bx"/>
<path d="M112.51 411h2M112.51 455h2" class="cp"/>
<path d="M111.51 448.2h4" class="md"/>
<path d="M121.5 373.8V382.4" class="wk"/>
<path d="M121.5 428.6V412.4" class="wk"/>
<rect x="119.51" y="382.4" width="4" height="30" class="bx"/>
<path d="M120.5 373.8h2M120.5 428.6h2" class="cp"/>
<path d="M119.51 398h4" class="md"/>
<rect x="21.6" y="372.7" width="103.9" height="83.4" class="ax"/></g>
<g><text x="212.9" y="371" class="tt">C17-F15</text>
<text x="159.9" y="411.2" class="yl">10<tspan class="ex" dy="-3.4">4</tspan></text>
<text transform="translate(148.59,414.4) rotate(-90)" class="lab">objective function</text>
<text transform="translate(167.45,457.2) rotate(-90)" class="xl">LOA</text>
<text transform="translate(175.39,457.2) rotate(-90)" class="xl">WSO</text>
<text transform="translate(183.32,457.2) rotate(-90)" class="xl">AVOA</text>
<text transform="translate(191.26,457.2) rotate(-90)" class="xl">RSA</text>
<text transform="translate(199.2,457.2) rotate(-90)" class="xl">MPA</text>
<text transform="translate(207.14,457.2) rotate(-90)" class="xl">TSA</text>
<text transform="translate(215.08,457.2) rotate(-90)" class="xl">WOA</text>
<text transform="translate(223.02,457.2) rotate(-90)" class="xl">MVO</text>
<text transform="translate(230.95,457.2) rotate(-90)" class="xl">GWO</text>
<text transform="translate(238.89,457.2) rotate(-90)" class="xl">TLBO</text>
<text transform="translate(246.83,457.2) rotate(-90)" class="xl">GSA</text>
<text transform="translate(254.77,457.2) rotate(-90)" class="xl">PSO</text>
<text transform="translate(262.71,457.2) rotate(-90)" class="xl">GA</text>
<text x="212.9" y="482.9" class="lab">algorithm</text>
<path d="M165.27 455.9v-1.5M165.27 372.9v1.5M173.21 455.9v-1.5M173.21 372.9v1.5M181.15 455.9v-1.5M181.15 372.9v1.5M189.08 455.9v-1.5M189.08 372.9v1.5M197.02 455.9v-1.5M197.02 372.9v1.5M204.96 455.9v-1.5M204.96 372.9v1.5M212.9 455.9v-1.5M212.9 372.9v1.5M220.84 455.9v-1.5M220.84 372.9v1.5M228.78 455.9v-1.5M228.78 372.9v1.5M236.72 455.9v-1.5M236.72 372.9v1.5M244.65 455.9v-1.5M244.65 372.9v1.5M252.59 455.9v-1.5M252.59 372.9v1.5M260.53 455.9v-1.5M260.53 372.9v1.5M161.3 407.8h1.5M264.5 407.8h-1.5M161.3 449.39h1.2M264.5 449.39h-1.2M161.3 438.91h1.2M264.5 438.91h-1.2M161.3 431.48h1.2M264.5 431.48h-1.2M161.3 425.71h1.2M264.5 425.71h-1.2M161.3 421h1.2M264.5 421h-1.2M161.3 417.02h1.2M264.5 417.02h-1.2M161.3 413.57h1.2M264.5 413.57h-1.2M161.3 410.52h1.2M264.5 410.52h-1.2M161.3 407.8h1.5M264.5 407.8h-1.5M161.3 389.89h1.2M264.5 389.89h-1.2M161.3 379.41h1.2M264.5 379.41h-1.2" class="tk"/>
<rect x="163.28" y="455" width="3.97" height="0" class="bx"/>
<path d="M163.28 455h3.97" class="md"/>
<path d="M173.21 397.6V398.4" class="wk"/>
<path d="M173.21 437V424" class="wk"/>
<rect x="171.22" y="398.4" width="3.97" height="25.6" class="bx"/>
<path d="M172.22 397.6h1.98M172.22 437h1.98" class="cp"/>
<path d="M171.22 408.6h3.97" class="md"/>
<path d="M172.41 394.4h1.6M173.21 393.6v1.6" class="ol"/>
<path d="M181.15 402.4V414.4" class="wk"/>
<path d="M181.15 447.6V443.4" class="wk"/>
<rect x="179.16" y="414.4" width="3.97" height="29" class="bx"/>
<path d="M180.15 402.4h1.98M180.15 447.6h1.98" class="cp"/>
<path d="M179.16 437h3.97" class="md"/>
<path d="M189.08 380.4V388" class="wk"/>
<path d="M189.08 441V425.4" class="wk"/>
<rect x="187.1" y="388" width="3.97" height="37.4" class="bx"/>
<path d="M188.09 380.4h1.98M188.09 441h1.98" class="cp"/>
<path d="M187.1 406h3.97" class="md"/>
<path d="M197.02 428.4V429.6" class="wk"/>
<path d="M197.02 437V435" class="wk"/>
<rect x="195.04" y="429.6" width="3.97" height="5.4" class="bx"/>
<path d="M196.03 428.4h1.98M196.03 437h1.98" class="cp"/>
<path d="M195.04 432.4h3.97" class="md"/>
<path d="M204.96 407V408" class="wk"/>
<path d="M204.96 445V434" class="wk"/>
<rect x="202.98" y="408" width="3.97" height="26" class="bx"/>
<path d="M203.97 407h1.98M203.97 445h1.98" class="cp"/>
<path d="M202.98 419.4h3.97" class="md"/>
<path d="M204.16 403h1.6M204.96 402.2v1.6" class="ol"/>
<path d="M212.9 401.6V411" class="wk"/>
<path d="M212.9 449V436" class="wk"/>
<rect x="210.92" y="411" width="3.97" height="25" class="bx"/>
<path d="M211.91 401.6h1.98M211.91 449h1.98" class="cp"/>
<path d="M210.92 427.6h3.97" class="md"/>
<rect x="218.85" y="454.6" width="3.97" height="0.8" class="bx"/>
<path d="M219.85 454.6h1.98M219.85 455.4h1.98" class="cp"/>
<path d="M218.85 455h3.97" class="md"/>
<path d="M228.78 418V418.6" class="wk"/>
<rect x="226.79" y="418.6" width="3.97" height="8.4" class="bx"/>
<path d="M227.78 418h1.98M227.78 427h1.98" class="cp"/>
<path d="M226.79 420h3.97" class="md"/>
<path d="M227.98 434h1.6M228.78 433.2v1.6" class="ol"/>
<rect x="234.73" y="451.6" width="3.97" height="2.8" class="bx"/>
<path d="M235.72 451.6h1.98M235.72 454.4h1.98" class="cp"/>
<path d="M234.73 453h3.97" class="md"/>
<path d="M244.65 377V378" class="wk"/>
<rect x="242.67" y="378" width="3.97" height="22" class="bx"/>
<path d="M243.66 377h1.98M243.66 400h1.98" class="cp"/>
<path d="M242.67 386.4h3.97" class="md"/>
<path d="M243.85 405h1.6M244.65 404.2v1.6" class="ol"/>
<path d="M252.59 402.4V403" class="wk"/>
<path d="M252.59 437V424" class="wk"/>
<rect x="250.61" y="403" width="3.97" height="21" class="bx"/>
<path d="M251.6 402.4h1.98M251.6 437h1.98" class="cp"/>
<path d="M250.61 411h3.97" class="md"/>
<path d="M251.79 399h1.6M252.59 398.2v1.6" class="ol"/>
<path d="M251.79 439.4h1.6M252.59 438.6v1.6" class="ol"/>
<path d="M260.53 414.4V417.4" class="wk"/>
<path d="M260.53 450.4V449.4" class="wk"/>
<rect x="258.55" y="417.4" width="3.97" height="32" class="bx"/>
<path d="M259.54 414.4h1.98M259.54 450.4h1.98" class="cp"/>
<path d="M258.55 431h3.97" class="md"/>
<rect x="161.3" y="372.9" width="103.2" height="83" class="ax"/></g>
<g><text x="354.15" y="371" class="tt">C17-F16</text>
<text transform="translate(303,385) scale(0.9,1)" class="yl">2200</text>
<text transform="translate(303,395.6) scale(0.9,1)" class="yl">2100</text>
<text transform="translate(303,405.7) scale(0.9,1)" class="yl">2000</text>
<text transform="translate(303,416.8) scale(0.9,1)" class="yl">1900</text>
<text transform="translate(303,428.8) scale(0.9,1)" class="yl">1800</text>
<text transform="translate(303,441.1) scale(0.9,1)" class="yl">1700</text>
<text transform="translate(303,454.3) scale(0.9,1)" class="yl">1600</text>
<text transform="translate(287.92,414.45) rotate(-90)" class="lab">objective function</text>
<text transform="translate(310.4,457.3) rotate(-90)" class="xl">LOA</text>
<text transform="translate(318.06,457.3) rotate(-90)" class="xl">WSO</text>
<text transform="translate(325.71,457.3) rotate(-90)" class="xl">AVOA</text>
<text transform="translate(333.37,457.3) rotate(-90)" class="xl">RSA</text>
<text transform="translate(341.02,457.3) rotate(-90)" class="xl">MPA</text>
<text transform="translate(348.67,457.3) rotate(-90)" class="xl">TSA</text>
<text transform="translate(356.33,457.3) rotate(-90)" class="xl">WOA</text>
<text transform="translate(363.98,457.3) rotate(-90)" class="xl">MVO</text>
<text transform="translate(371.64,457.3) rotate(-90)" class="xl">GWO</text>
<text transform="translate(379.29,457.3) rotate(-90)" class="xl">TLBO</text>
<text transform="translate(386.94,457.3) rotate(-90)" class="xl">GSA</text>
<text transform="translate(394.6,457.3) rotate(-90)" class="xl">PSO</text>
<text transform="translate(402.25,457.3) rotate(-90)" class="xl">GA</text>
<text x="354.15" y="483" class="lab">algorithm</text>
<path d="M308.23 456v-1.5M308.23 372.9v1.5M315.88 456v-1.5M315.88 372.9v1.5M323.53 456v-1.5M323.53 372.9v1.5M331.19 456v-1.5M331.19 372.9v1.5M338.84 456v-1.5M338.84 372.9v1.5M346.5 456v-1.5M346.5 372.9v1.5M354.15 456v-1.5M354.15 372.9v1.5M361.8 456v-1.5M361.8 372.9v1.5M369.46 456v-1.5M369.46 372.9v1.5M377.11 456v-1.5M377.11 372.9v1.5M384.77 456v-1.5M384.77 372.9v1.5M392.42 456v-1.5M392.42 372.9v1.5M400.07 456v-1.5M400.07 372.9v1.5M304.4 382.1h1.5M403.9 382.1h-1.5M304.4 392.7h1.5M403.9 392.7h-1.5M304.4 402.8h1.5M403.9 402.8h-1.5M304.4 413.9h1.5M403.9 413.9h-1.5M304.4 425.9h1.5M403.9 425.9h-1.5M304.4 438.2h1.5M403.9 438.2h-1.5M304.4 451.4h1.5M403.9 451.4h-1.5M304.4 454.11h1.2M403.9 454.11h-1.2M304.4 448.68h1.2M403.9 448.68h-1.2M304.4 446.02h1.2M403.9 446.02h-1.2M304.4 443.39h1.2M403.9 443.39h-1.2M304.4 440.79h1.2M403.9 440.79h-1.2M304.4 435.68h1.2M403.9 435.68h-1.2M304.4 433.17h1.2M403.9 433.17h-1.2M304.4 430.69h1.2M403.9 430.69h-1.2M304.4 428.23h1.2M403.9 428.23h-1.2M304.4 423.41h1.2M403.9 423.41h-1.2M304.4 421.04h1.2M403.9 421.04h-1.2M304.4 418.69h1.2M403.9 418.69h-1.2M304.4 416.37h1.2M403.9 416.37h-1.2M304.4 411.8h1.2M403.9 411.8h-1.2M304.4 409.55h1.2M403.9 409.55h-1.2M304.4 407.32h1.2M403.9 407.32h-1.2M304.4 405.12h1.2M403.9 405.12h-1.2M304.4 400.78h1.2M403.9 400.78h-1.2M304.4 398.64h1.2M403.9 398.64h-1.2M304.4 396.52h1.2M403.9 396.52h-1.2M304.4 394.42h1.2M403.9 394.42h-1.2M304.4 390.29h1.2M403.9 390.29h-1.2M304.4 388.25h1.2M403.9 388.25h-1.2M304.4 386.23h1.2M403.9 386.23h-1.2M304.4 384.23h1.2M403.9 384.23h-1.2M304.4 380.28h1.2M403.9 380.28h-1.2M304.4 378.33h1.2M403.9 378.33h-1.2M304.4 376.41h1.2M403.9 376.41h-1.2M304.4 374.49h1.2M403.9 374.49h-1.2" class="tk"/>
<rect x="306.31" y="451.4" width="3.83" height="0" class="bx"/>
<path d="M306.31 451.4h3.83" class="md"/>
<path d="M315.88 394.6V398.4" class="wk"/>
<path d="M315.88 411.4V410.6" class="wk"/>
<rect x="313.97" y="398.4" width="3.83" height="12.2" class="bx"/>
<path d="M314.92 394.6h1.91M314.92 411.4h1.91" class="cp"/>
<path d="M313.97 406.6h3.83" class="md"/>
<path d="M315.08 393h1.6M315.88 392.2v1.6" class="ol"/>
<path d="M323.53 416V417.4" class="wk"/>
<path d="M323.53 446V434" class="wk"/>
<rect x="321.62" y="417.4" width="3.83" height="16.6" class="bx"/>
<path d="M322.58 416h1.91M322.58 446h1.91" class="cp"/>
<path d="M321.62 422.4h3.83" class="md"/>
<path d="M322.73 412.4h1.6M323.53 411.6v1.6" class="ol"/>
<path d="M331.19 375.6V389.4" class="wk"/>
<path d="M331.19 421.6V417.4" class="wk"/>
<rect x="329.27" y="389.4" width="3.83" height="28" class="bx"/>
<path d="M330.23 375.6h1.91M330.23 421.6h1.91" class="cp"/>
<path d="M329.27 406.6h3.83" class="md"/>
<path d="M330.39 424.4h1.6M331.19 423.6v1.6" class="ol"/>
<path d="M338.84 437V437.6" class="wk"/>
<rect x="336.93" y="437.6" width="3.83" height="6" class="bx"/>
<path d="M337.89 437h1.91M337.89 443.6h1.91" class="cp"/>
<path d="M336.93 440.4h3.83" class="md"/>
<path d="M338.04 445.6h1.6M338.84 444.8v1.6" class="ol"/>
<path d="M346.5 385.6V386.4" class="wk"/>
<path d="M346.5 416V414.4" class="wk"/>
<rect x="344.58" y="386.4" width="3.83" height="28" class="bx"/>
<path d="M345.54 385.6h1.91M345.54 416h1.91" class="cp"/>
<path d="M344.58 399.4h3.83" class="md"/>
<path d="M345.7 381.6h1.6M346.5 380.8v1.6" class="ol"/>
<path d="M345.7 419h1.6M346.5 418.2v1.6" class="ol"/>
<path d="M354.15 396.6V397.4" class="wk"/>
<path d="M354.15 431V423.4" class="wk"/>
<rect x="352.24" y="397.4" width="3.83" height="26" class="bx"/>
<path d="M353.19 396.6h1.91M353.19 431h1.91" class="cp"/>
<path d="M352.24 406.6h3.83" class="md"/>
<path d="M361.8 419.6V420.6" class="wk"/>
<rect x="359.89" y="420.6" width="3.83" height="9" class="bx"/>
<path d="M360.85 419.6h1.91M360.85 429.6h1.91" class="cp"/>
<path d="M359.89 423.4h3.83" class="md"/>
<path d="M361 418h1.6M361.8 417.2v1.6" class="ol"/>
<path d="M361 435h1.6M361.8 434.2v1.6" class="ol"/>
<path d="M369.46 427.6V428.4" class="wk"/>
<path d="M369.46 449.4V442.4" class="wk"/>
<rect x="367.54" y="428.4" width="3.83" height="14" class="bx"/>
<path d="M368.5 427.6h1.91M368.5 449.4h1.91" class="cp"/>
<path d="M367.54 434h3.83" class="md"/>
<path d="M368.66 424h1.6M369.46 423.2v1.6" class="ol"/>
<rect x="375.2" y="438.4" width="3.83" height="6.6" class="bx"/>
<path d="M376.15 438h1.91M376.15 445h1.91" class="cp"/>
<path d="M375.2 443.4h3.83" class="md"/>
<path d="M376.31 434.6h1.6M377.11 433.8v1.6" class="ol"/>
<path d="M384.77 377V386" class="wk"/>
<path d="M384.77 410V408" class="wk"/>
<rect x="382.85" y="386" width="3.83" height="22" class="bx"/>
<path d="M383.81 377h1.91M383.81 410h1.91" class="cp"/>
<path d="M382.85 400.4h3.83" class="md"/>
<path d="M392.42 401.6V403" class="wk"/>
<path d="M392.42 424V423" class="wk"/>
<rect x="390.51" y="403" width="3.83" height="20" class="bx"/>
<path d="M391.46 401.6h1.91M391.46 424h1.91" class="cp"/>
<path d="M390.51 416h3.83" class="md"/>
<path d="M391.62 396h1.6M392.42 395.2v1.6" class="ol"/>
<rect x="398.16" y="423.4" width="3.83" height="6.6" class="bx"/>
<path d="M399.12 423h1.91M399.12 430h1.91" class="cp"/>
<path d="M398.16 423.6h3.83" class="md"/>
<path d="M399.27 435.4h1.6M400.07 434.6v1.6" class="ol"/>
<rect x="304.4" y="372.9" width="99.5" height="83.1" class="ax"/></g>
<g><text x="493.55" y="370.8" class="tt">C17-F17</text>
<text transform="translate(442.2,384.8) scale(0.9,1)" class="yl">1950</text>
<text transform="translate(442.2,397.4) scale(0.9,1)" class="yl">1900</text>
<text transform="translate(442.2,410.1) scale(0.9,1)" class="yl">1850</text>
<text transform="translate(442.2,422.6) scale(0.9,1)" class="yl">1800</text>
<text transform="translate(442.2,435.9) scale(0.9,1)" class="yl">1750</text>
<text transform="translate(442.2,449.2) scale(0.9,1)" class="yl">1700</text>
<text transform="translate(427.12,414.35) rotate(-90)" class="lab">objective function</text>
<text transform="translate(449.62,457.3) rotate(-90)" class="xl">LOA</text>
<text transform="translate(457.3,457.3) rotate(-90)" class="xl">WSO</text>
<text transform="translate(464.99,457.3) rotate(-90)" class="xl">AVOA</text>
<text transform="translate(472.67,457.3) rotate(-90)" class="xl">RSA</text>
<text transform="translate(480.36,457.3) rotate(-90)" class="xl">MPA</text>
<text transform="translate(488.04,457.3) rotate(-90)" class="xl">TSA</text>
<text transform="translate(495.73,457.3) rotate(-90)" class="xl">WOA</text>
<text transform="translate(503.41,457.3) rotate(-90)" class="xl">MVO</text>
<text transform="translate(511.1,457.3) rotate(-90)" class="xl">GWO</text>
<text transform="translate(518.78,457.3) rotate(-90)" class="xl">TLBO</text>
<text transform="translate(526.47,457.3) rotate(-90)" class="xl">GSA</text>
<text transform="translate(534.15,457.3) rotate(-90)" class="xl">PSO</text>
<text transform="translate(541.84,457.3) rotate(-90)" class="xl">GA</text>
<text x="493.55" y="483" class="lab">algorithm</text>
<path d="M447.44 456v-1.5M447.44 372.7v1.5M455.13 456v-1.5M455.13 372.7v1.5M462.81 456v-1.5M462.81 372.7v1.5M470.5 456v-1.5M470.5 372.7v1.5M478.18 456v-1.5M478.18 372.7v1.5M485.87 456v-1.5M485.87 372.7v1.5M493.55 456v-1.5M493.55 372.7v1.5M501.23 456v-1.5M501.23 372.7v1.5M508.92 456v-1.5M508.92 372.7v1.5M516.6 456v-1.5M516.6 372.7v1.5M524.29 456v-1.5M524.29 372.7v1.5M531.97 456v-1.5M531.97 372.7v1.5M539.66 456v-1.5M539.66 372.7v1.5M443.6 381.9h1.5M543.5 381.9h-1.5M443.6 394.5h1.5M543.5 394.5h-1.5M443.6 407.2h1.5M543.5 407.2h-1.5M443.6 419.7h1.5M543.5 419.7h-1.5M443.6 433h1.5M543.5 433h-1.5M443.6 446.3h1.5M543.5 446.3h-1.5M443.6 454.85h1.2M543.5 454.85h-1.2M443.6 452.05h1.2M543.5 452.05h-1.2M443.6 449.27h1.2M543.5 449.27h-1.2M443.6 443.75h1.2M543.5 443.75h-1.2M443.6 441.02h1.2M543.5 441.02h-1.2M443.6 438.3h1.2M543.5 438.3h-1.2M443.6 435.6h1.2M543.5 435.6h-1.2M443.6 430.25h1.2M543.5 430.25h-1.2M443.6 427.59h1.2M543.5 427.59h-1.2M443.6 424.95h1.2M543.5 424.95h-1.2M443.6 422.33h1.2M543.5 422.33h-1.2M443.6 417.12h1.2M543.5 417.12h-1.2M443.6 414.54h1.2M543.5 414.54h-1.2M443.6 411.97h1.2M543.5 411.97h-1.2M443.6 409.42h1.2M543.5 409.42h-1.2M443.6 404.35h1.2M543.5 404.35h-1.2M443.6 401.84h1.2M543.5 401.84h-1.2M443.6 399.34h1.2M543.5 399.34h-1.2M443.6 396.85h1.2M543.5 396.85h-1.2M443.6 391.92h1.2M543.5 391.92h-1.2M443.6 389.47h1.2M543.5 389.47h-1.2M443.6 387.04h1.2M543.5 387.04h-1.2M443.6 384.62h1.2M543.5 384.62h-1.2M443.6 379.81h1.2M543.5 379.81h-1.2M443.6 377.43h1.2M543.5 377.43h-1.2M443.6 375.05h1.2M543.5 375.05h-1.2" class="tk"/>
<rect x="445.52" y="446.4" width="3.84" height="0" class="bx"/>
<path d="M445.52 446.4h3.84" class="md"/>
<path d="M455.13 419V417" class="wk"/>
<rect x="453.21" y="413.6" width="3.84" height="3.4" class="bx"/>
<path d="M454.17 413.6h1.92M454.17 419h1.92" class="cp"/>
<path d="M453.21 415h3.84" class="md"/>
<path d="M462.81 421V429" class="wk"/>
<rect x="460.89" y="429" width="3.84" height="8.6" class="bx"/>
<path d="M461.85 421h1.92M461.85 437.6h1.92" class="cp"/>
<path d="M460.89 437h3.84" class="md"/>
<path d="M470.5 414V414.6" class="wk"/>
<path d="M470.5 420V418" class="wk"/>
<rect x="468.57" y="414.6" width="3.84" height="3.4" class="bx"/>
<path d="M469.54 414h1.92M469.54 420h1.92" class="cp"/>
<path d="M468.57 415.4h3.84" class="md"/>
<path d="M478.18 432V433.6" class="wk"/>
<rect x="476.26" y="433.6" width="3.84" height="6.8" class="bx"/>
<path d="M477.22 432h1.92M477.22 440.4h1.92" class="cp"/>
<path d="M476.26 440h3.84" class="md"/>
<path d="M477.38 427h1.6M478.18 426.2v1.6" class="ol"/>
<path d="M485.87 418V418.6" class="wk"/>
<path d="M485.87 424V422" class="wk"/>
<rect x="483.94" y="418.6" width="3.84" height="3.4" class="bx"/>
<path d="M484.9 418h1.92M484.9 424h1.92" class="cp"/>
<path d="M483.94 420.4h3.84" class="md"/>
<path d="M493.55 398.6V401.6" class="wk"/>
<path d="M493.55 427V419.6" class="wk"/>
<rect x="491.63" y="401.6" width="3.84" height="18" class="bx"/>
<path d="M492.59 398.6h1.92M492.59 427h1.92" class="cp"/>
<path d="M491.63 407.6h3.84" class="md"/>
<path d="M501.23 385V395" class="wk"/>
<rect x="499.31" y="395" width="3.84" height="31" class="bx"/>
<path d="M500.27 385h1.92M500.27 426h1.92" class="cp"/>
<path d="M499.31 415.4h3.84" class="md"/>
<path d="M508.92 403V419.6" class="wk"/>
<path d="M508.92 440V438.4" class="wk"/>
<rect x="507" y="419.6" width="3.84" height="18.8" class="bx"/>
<path d="M507.96 403h1.92M507.96 440h1.92" class="cp"/>
<path d="M507 436.4h3.84" class="md"/>
<rect x="514.68" y="429" width="3.84" height="4.4" class="bx"/>
<path d="M515.64 429h1.92M515.64 433.4h1.92" class="cp"/>
<path d="M514.68 431h3.84" class="md"/>
<rect x="522.37" y="386" width="3.84" height="47.4" class="bx"/>
<path d="M523.33 385.6h1.92M523.33 433.4h1.92" class="cp"/>
<path d="M522.37 412.4h3.84" class="md"/>
<path d="M523.49 379.4h1.6M524.29 378.6v1.6" class="ol"/>
<rect x="530.05" y="431.6" width="3.84" height="2.4" class="bx"/>
<path d="M531.01 431.6h1.92M531.01 434h1.92" class="cp"/>
<path d="M530.05 432.6h3.84" class="md"/>
<rect x="537.74" y="431.4" width="3.84" height="1.2" class="bx"/>
<path d="M538.7 431.4h1.92M538.7 432.6h1.92" class="cp"/>
<path d="M537.74 432h3.84" class="md"/>
<rect x="443.6" y="372.7" width="99.9" height="83.3" class="ax"/></g>
</g></svg></body></html>
